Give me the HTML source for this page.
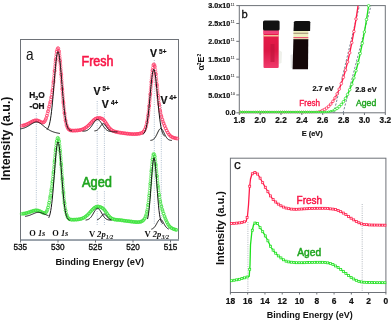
<!DOCTYPE html>
<html><head><meta charset="utf-8"><title>Figure</title>
<style>html,body{margin:0;padding:0;background:#fff;width:392px;height:322px;overflow:hidden}svg{display:block;filter:blur(0.3px)}</style>
</head><body>
<svg width="392" height="322" viewBox="0 0 392 322"><rect x="20.5" y="39.5" width="158" height="200.5" fill="none" stroke="#6e7278" stroke-width="1"/>
<line x1="20.9" y1="240.1" x2="179" y2="240.1" stroke="#9aa2ab" stroke-width="1.9"/>
<line x1="20.5" y1="240" x2="20.5" y2="242.5" stroke="#6e7278" stroke-width="1"/>
<line x1="58.0" y1="240" x2="58.0" y2="242.5" stroke="#6e7278" stroke-width="1"/>
<line x1="95.5" y1="240" x2="95.5" y2="242.5" stroke="#6e7278" stroke-width="1"/>
<line x1="133.0" y1="240" x2="133.0" y2="242.5" stroke="#6e7278" stroke-width="1"/>
<line x1="170.5" y1="240" x2="170.5" y2="242.5" stroke="#6e7278" stroke-width="1"/>
<line x1="36.30" y1="113.0" x2="36.30" y2="209.0" stroke="#a8b8ca" stroke-width="0.90" stroke-dasharray="1 1.2"/>
<line x1="97.20" y1="101.0" x2="97.20" y2="225.0" stroke="#a8b8ca" stroke-width="0.90" stroke-dasharray="1 1.2"/>
<line x1="104.40" y1="112.0" x2="104.40" y2="225.0" stroke="#a8b8ca" stroke-width="0.90" stroke-dasharray="1 1.2"/>
<line x1="154.30" y1="60.0" x2="154.30" y2="225.0" stroke="#a8b8ca" stroke-width="0.90" stroke-dasharray="1 1.2"/>
<line x1="161.30" y1="105.0" x2="161.30" y2="225.0" stroke="#a8b8ca" stroke-width="0.90" stroke-dasharray="1 1.2"/>
<g fill="none" stroke="#ff3765" stroke-width="0.60"><circle cx="21.60" cy="125.82" r="1.40"/><circle cx="22.70" cy="125.62" r="1.40"/><circle cx="23.80" cy="125.35" r="1.40"/><circle cx="23.94" cy="125.31" r="1.40"/><circle cx="24.90" cy="125.02" r="1.40"/><circle cx="26.00" cy="124.62" r="1.40"/><circle cx="26.21" cy="124.54" r="1.40"/><circle cx="27.10" cy="124.16" r="1.40"/><circle cx="28.20" cy="123.64" r="1.40"/><circle cx="28.40" cy="123.54" r="1.40"/><circle cx="29.30" cy="123.07" r="1.40"/><circle cx="30.40" cy="122.47" r="1.40"/><circle cx="30.51" cy="122.41" r="1.40"/><circle cx="31.50" cy="121.88" r="1.40"/><circle cx="32.60" cy="121.32" r="1.40"/><circle cx="32.64" cy="121.30" r="1.40"/><circle cx="33.70" cy="120.85" r="1.40"/><circle cx="34.80" cy="120.50" r="1.40"/><circle cx="34.89" cy="120.48" r="1.40"/><circle cx="35.90" cy="120.34" r="1.40"/><circle cx="37.00" cy="120.40" r="1.40"/><circle cx="37.27" cy="120.44" r="1.40"/><circle cx="38.10" cy="120.65" r="1.40"/><circle cx="39.20" cy="121.10" r="1.40"/><circle cx="39.52" cy="121.26" r="1.40"/><circle cx="40.30" cy="121.67" r="1.40"/><circle cx="41.40" cy="122.23" r="1.40"/><circle cx="41.66" cy="122.35" r="1.40"/><circle cx="42.50" cy="122.59" r="1.40"/><circle cx="43.60" cy="122.42" r="1.40"/><circle cx="43.93" cy="122.21" r="1.40"/><circle cx="44.70" cy="121.36" r="1.40"/><circle cx="45.31" cy="120.27" r="1.40"/><circle cx="45.80" cy="119.13" r="1.40"/><circle cx="46.19" cy="118.04" r="1.40"/><circle cx="46.89" cy="115.75" r="1.40"/><circle cx="46.90" cy="115.71" r="1.40"/><circle cx="47.51" cy="113.43" r="1.40"/><circle cx="48.00" cy="111.44" r="1.40"/><circle cx="48.08" cy="111.10" r="1.40"/><circle cx="48.65" cy="108.77" r="1.40"/><circle cx="49.10" cy="106.92" r="1.40"/><circle cx="49.22" cy="106.43" r="1.40"/><circle cx="49.79" cy="104.10" r="1.40"/><circle cx="50.20" cy="102.38" r="1.40"/><circle cx="50.34" cy="101.77" r="1.40"/><circle cx="50.87" cy="99.43" r="1.40"/><circle cx="51.30" cy="97.34" r="1.40"/><circle cx="51.35" cy="97.07" r="1.40"/><circle cx="51.78" cy="94.71" r="1.40"/><circle cx="52.17" cy="92.34" r="1.40"/><circle cx="52.40" cy="90.77" r="1.40"/><circle cx="52.51" cy="89.97" r="1.40"/><circle cx="52.83" cy="87.59" r="1.40"/><circle cx="53.12" cy="85.21" r="1.40"/><circle cx="53.39" cy="82.82" r="1.40"/><circle cx="53.50" cy="81.87" r="1.40"/><circle cx="53.65" cy="80.44" r="1.40"/><circle cx="53.90" cy="78.05" r="1.40"/><circle cx="54.14" cy="75.66" r="1.40"/><circle cx="54.37" cy="73.27" r="1.40"/><circle cx="54.60" cy="70.94" r="1.40"/><circle cx="54.60" cy="70.89" r="1.40"/><circle cx="54.83" cy="68.50" r="1.40"/><circle cx="55.06" cy="66.11" r="1.40"/><circle cx="55.30" cy="63.72" r="1.40"/><circle cx="55.54" cy="61.33" r="1.40"/><circle cx="55.70" cy="59.80" r="1.40"/><circle cx="55.79" cy="58.94" r="1.40"/><circle cx="56.06" cy="56.56" r="1.40"/><circle cx="56.36" cy="54.18" r="1.40"/><circle cx="56.71" cy="51.80" r="1.40"/><circle cx="56.80" cy="51.27" r="1.40"/><circle cx="57.18" cy="49.45" r="1.40"/><circle cx="57.90" cy="48.01" r="1.40"/><circle cx="58.34" cy="48.55" r="1.40"/><circle cx="58.92" cy="50.88" r="1.40"/><circle cx="59.00" cy="51.36" r="1.40"/><circle cx="59.28" cy="53.25" r="1.40"/><circle cx="59.57" cy="55.63" r="1.40"/><circle cx="59.83" cy="58.02" r="1.40"/><circle cx="60.06" cy="60.41" r="1.40"/><circle cx="60.10" cy="60.82" r="1.40"/><circle cx="60.28" cy="62.80" r="1.40"/><circle cx="60.48" cy="65.19" r="1.40"/><circle cx="60.68" cy="67.58" r="1.40"/><circle cx="60.87" cy="69.97" r="1.40"/><circle cx="61.05" cy="72.37" r="1.40"/><circle cx="61.20" cy="74.29" r="1.40"/><circle cx="61.23" cy="74.76" r="1.40"/><circle cx="61.41" cy="77.15" r="1.40"/><circle cx="61.59" cy="79.54" r="1.40"/><circle cx="61.77" cy="81.94" r="1.40"/><circle cx="61.95" cy="84.33" r="1.40"/><circle cx="62.13" cy="86.73" r="1.40"/><circle cx="62.30" cy="89.00" r="1.40"/><circle cx="62.31" cy="89.12" r="1.40"/><circle cx="62.49" cy="91.51" r="1.40"/><circle cx="62.68" cy="93.90" r="1.40"/><circle cx="62.87" cy="96.30" r="1.40"/><circle cx="63.07" cy="98.69" r="1.40"/><circle cx="63.28" cy="101.08" r="1.40"/><circle cx="63.40" cy="102.47" r="1.40"/><circle cx="63.49" cy="103.47" r="1.40"/><circle cx="63.71" cy="105.86" r="1.40"/><circle cx="63.95" cy="108.25" r="1.40"/><circle cx="64.20" cy="110.63" r="1.40"/><circle cx="64.48" cy="113.02" r="1.40"/><circle cx="64.50" cy="113.21" r="1.40"/><circle cx="64.78" cy="115.40" r="1.40"/><circle cx="65.11" cy="117.78" r="1.40"/><circle cx="65.49" cy="120.15" r="1.40"/><circle cx="65.60" cy="120.77" r="1.40"/><circle cx="65.94" cy="122.50" r="1.40"/><circle cx="66.50" cy="124.84" r="1.40"/><circle cx="66.70" cy="125.52" r="1.40"/><circle cx="67.26" cy="127.11" r="1.40"/><circle cx="67.80" cy="128.21" r="1.40"/><circle cx="68.47" cy="129.17" r="1.40"/><circle cx="68.90" cy="129.59" r="1.40"/><circle cx="70.00" cy="130.23" r="1.40"/><circle cx="70.50" cy="130.38" r="1.40"/><circle cx="71.10" cy="130.49" r="1.40"/><circle cx="72.20" cy="130.59" r="1.40"/><circle cx="72.88" cy="130.61" r="1.40"/><circle cx="73.30" cy="130.61" r="1.40"/><circle cx="74.40" cy="130.59" r="1.40"/><circle cx="75.28" cy="130.56" r="1.40"/><circle cx="75.50" cy="130.55" r="1.40"/><circle cx="76.60" cy="130.49" r="1.40"/><circle cx="77.68" cy="130.40" r="1.40"/><circle cx="77.70" cy="130.39" r="1.40"/><circle cx="78.80" cy="130.26" r="1.40"/><circle cx="79.90" cy="130.08" r="1.40"/><circle cx="80.05" cy="130.05" r="1.40"/><circle cx="81.00" cy="129.83" r="1.40"/><circle cx="82.10" cy="129.50" r="1.40"/><circle cx="82.36" cy="129.41" r="1.40"/><circle cx="83.20" cy="129.07" r="1.40"/><circle cx="84.30" cy="128.53" r="1.40"/><circle cx="84.54" cy="128.40" r="1.40"/><circle cx="85.40" cy="127.87" r="1.40"/><circle cx="86.50" cy="127.10" r="1.40"/><circle cx="86.53" cy="127.07" r="1.40"/><circle cx="87.60" cy="126.19" r="1.40"/><circle cx="88.35" cy="125.51" r="1.40"/><circle cx="88.70" cy="125.17" r="1.40"/><circle cx="89.80" cy="124.05" r="1.40"/><circle cx="90.04" cy="123.80" r="1.40"/><circle cx="90.90" cy="122.88" r="1.40"/><circle cx="91.68" cy="122.05" r="1.40"/><circle cx="92.00" cy="121.71" r="1.40"/><circle cx="93.10" cy="120.61" r="1.40"/><circle cx="93.38" cy="120.35" r="1.40"/><circle cx="94.20" cy="119.64" r="1.40"/><circle cx="95.27" cy="118.89" r="1.40"/><circle cx="95.30" cy="118.87" r="1.40"/><circle cx="96.40" cy="118.33" r="1.40"/><circle cx="97.50" cy="118.03" r="1.40"/><circle cx="97.50" cy="118.03" r="1.40"/><circle cx="98.60" cy="117.93" r="1.40"/><circle cx="99.70" cy="117.99" r="1.40"/><circle cx="99.89" cy="118.02" r="1.40"/><circle cx="100.80" cy="118.20" r="1.40"/><circle cx="101.90" cy="118.60" r="1.40"/><circle cx="102.16" cy="118.74" r="1.40"/><circle cx="103.00" cy="119.30" r="1.40"/><circle cx="104.01" cy="120.26" r="1.40"/><circle cx="104.10" cy="120.36" r="1.40"/><circle cx="105.20" cy="121.79" r="1.40"/><circle cx="105.46" cy="122.17" r="1.40"/><circle cx="106.30" cy="123.47" r="1.40"/><circle cx="106.75" cy="124.19" r="1.40"/><circle cx="107.40" cy="125.20" r="1.40"/><circle cx="108.06" cy="126.20" r="1.40"/><circle cx="108.50" cy="126.81" r="1.40"/><circle cx="109.53" cy="128.09" r="1.40"/><circle cx="109.60" cy="128.17" r="1.40"/><circle cx="110.70" cy="129.29" r="1.40"/><circle cx="111.26" cy="129.76" r="1.40"/><circle cx="111.80" cy="130.16" r="1.40"/><circle cx="112.90" cy="130.80" r="1.40"/><circle cx="113.31" cy="130.99" r="1.40"/><circle cx="114.00" cy="131.28" r="1.40"/><circle cx="115.10" cy="131.65" r="1.40"/><circle cx="115.57" cy="131.78" r="1.40"/><circle cx="116.20" cy="131.94" r="1.40"/><circle cx="117.30" cy="132.19" r="1.40"/><circle cx="117.91" cy="132.31" r="1.40"/><circle cx="118.40" cy="132.40" r="1.40"/><circle cx="119.50" cy="132.59" r="1.40"/><circle cx="120.28" cy="132.71" r="1.40"/><circle cx="120.60" cy="132.76" r="1.40"/><circle cx="121.70" cy="132.91" r="1.40"/><circle cx="122.65" cy="133.05" r="1.40"/><circle cx="122.80" cy="133.07" r="1.40"/><circle cx="123.90" cy="133.23" r="1.40"/><circle cx="125.00" cy="133.37" r="1.40"/><circle cx="125.03" cy="133.38" r="1.40"/><circle cx="126.10" cy="133.51" r="1.40"/><circle cx="127.20" cy="133.64" r="1.40"/><circle cx="127.41" cy="133.66" r="1.40"/><circle cx="128.30" cy="133.76" r="1.40"/><circle cx="129.40" cy="133.87" r="1.40"/><circle cx="129.80" cy="133.90" r="1.40"/><circle cx="130.50" cy="133.96" r="1.40"/><circle cx="131.60" cy="134.05" r="1.40"/><circle cx="132.20" cy="134.08" r="1.40"/><circle cx="132.70" cy="134.09" r="1.40"/><circle cx="133.80" cy="134.10" r="1.40"/><circle cx="134.60" cy="134.09" r="1.40"/><circle cx="134.90" cy="134.08" r="1.40"/><circle cx="136.00" cy="134.04" r="1.40"/><circle cx="136.99" cy="133.97" r="1.40"/><circle cx="137.10" cy="133.96" r="1.40"/><circle cx="138.20" cy="133.84" r="1.40"/><circle cx="139.30" cy="133.66" r="1.40"/><circle cx="139.37" cy="133.65" r="1.40"/><circle cx="140.40" cy="133.40" r="1.40"/><circle cx="141.50" cy="133.02" r="1.40"/><circle cx="141.66" cy="132.95" r="1.40"/><circle cx="142.60" cy="132.38" r="1.40"/><circle cx="143.55" cy="131.49" r="1.40"/><circle cx="143.70" cy="131.32" r="1.40"/><circle cx="144.80" cy="129.59" r="1.40"/><circle cx="144.85" cy="129.49" r="1.40"/><circle cx="145.74" cy="127.26" r="1.40"/><circle cx="145.90" cy="126.74" r="1.40"/><circle cx="146.39" cy="124.95" r="1.40"/><circle cx="146.92" cy="122.61" r="1.40"/><circle cx="147.00" cy="122.21" r="1.40"/><circle cx="147.36" cy="120.25" r="1.40"/><circle cx="147.74" cy="117.88" r="1.40"/><circle cx="148.09" cy="115.51" r="1.40"/><circle cx="148.10" cy="115.41" r="1.40"/><circle cx="148.40" cy="113.13" r="1.40"/><circle cx="148.68" cy="110.74" r="1.40"/><circle cx="148.95" cy="108.36" r="1.40"/><circle cx="149.20" cy="106.02" r="1.40"/><circle cx="149.21" cy="105.97" r="1.40"/><circle cx="149.45" cy="103.58" r="1.40"/><circle cx="149.68" cy="101.19" r="1.40"/><circle cx="149.90" cy="98.81" r="1.40"/><circle cx="150.12" cy="96.42" r="1.40"/><circle cx="150.30" cy="94.34" r="1.40"/><circle cx="150.33" cy="94.02" r="1.40"/><circle cx="150.54" cy="91.63" r="1.40"/><circle cx="150.74" cy="89.24" r="1.40"/><circle cx="150.95" cy="86.85" r="1.40"/><circle cx="151.15" cy="84.46" r="1.40"/><circle cx="151.36" cy="82.07" r="1.40"/><circle cx="151.40" cy="81.63" r="1.40"/><circle cx="151.57" cy="79.68" r="1.40"/><circle cx="151.79" cy="77.29" r="1.40"/><circle cx="152.02" cy="74.90" r="1.40"/><circle cx="152.26" cy="72.51" r="1.40"/><circle cx="152.50" cy="70.39" r="1.40"/><circle cx="152.53" cy="70.13" r="1.40"/><circle cx="152.85" cy="67.75" r="1.40"/><circle cx="153.28" cy="65.39" r="1.40"/><circle cx="153.60" cy="64.34" r="1.40"/><circle cx="154.36" cy="64.67" r="1.40"/><circle cx="154.70" cy="66.00" r="1.40"/><circle cx="154.89" cy="67.01" r="1.40"/><circle cx="155.24" cy="69.38" r="1.40"/><circle cx="155.54" cy="71.76" r="1.40"/><circle cx="155.80" cy="74.05" r="1.40"/><circle cx="155.81" cy="74.14" r="1.40"/><circle cx="156.06" cy="76.53" r="1.40"/><circle cx="156.31" cy="78.92" r="1.40"/><circle cx="156.55" cy="81.31" r="1.40"/><circle cx="156.78" cy="83.70" r="1.40"/><circle cx="156.90" cy="84.86" r="1.40"/><circle cx="157.02" cy="86.08" r="1.40"/><circle cx="157.26" cy="88.47" r="1.40"/><circle cx="157.51" cy="90.86" r="1.40"/><circle cx="157.76" cy="93.25" r="1.40"/><circle cx="158.00" cy="95.43" r="1.40"/><circle cx="158.02" cy="95.63" r="1.40"/><circle cx="158.30" cy="98.02" r="1.40"/><circle cx="158.59" cy="100.40" r="1.40"/><circle cx="158.90" cy="102.78" r="1.40"/><circle cx="159.10" cy="104.26" r="1.40"/><circle cx="159.23" cy="105.15" r="1.40"/><circle cx="159.59" cy="107.53" r="1.40"/><circle cx="159.99" cy="109.89" r="1.40"/><circle cx="160.20" cy="111.00" r="1.40"/><circle cx="160.45" cy="112.25" r="1.40"/><circle cx="160.96" cy="114.59" r="1.40"/><circle cx="161.30" cy="115.97" r="1.40"/><circle cx="161.55" cy="116.92" r="1.40"/><circle cx="162.23" cy="119.22" r="1.40"/><circle cx="162.40" cy="119.77" r="1.40"/><circle cx="162.98" cy="121.50" r="1.40"/><circle cx="163.50" cy="122.94" r="1.40"/><circle cx="163.81" cy="123.76" r="1.40"/><circle cx="164.60" cy="125.80" r="1.40"/><circle cx="164.68" cy="125.99" r="1.40"/><circle cx="165.60" cy="128.21" r="1.40"/><circle cx="165.70" cy="128.43" r="1.40"/><circle cx="166.61" cy="130.39" r="1.40"/><circle cx="166.80" cy="130.78" r="1.40"/><circle cx="167.73" cy="132.51" r="1.40"/><circle cx="167.90" cy="132.80" r="1.40"/><circle cx="169.00" cy="134.43" r="1.40"/><circle cx="169.06" cy="134.50" r="1.40"/><circle cx="170.10" cy="135.67" r="1.40"/><circle cx="170.73" cy="136.22" r="1.40"/><circle cx="171.20" cy="136.57" r="1.40"/><circle cx="172.30" cy="137.21" r="1.40"/><circle cx="172.79" cy="137.43" r="1.40"/><circle cx="173.40" cy="137.66" r="1.40"/><circle cx="174.50" cy="137.99" r="1.40"/><circle cx="175.08" cy="138.13" r="1.40"/><circle cx="175.60" cy="138.24" r="1.40"/><circle cx="176.70" cy="138.44" r="1.40"/><circle cx="177.44" cy="138.56" r="1.40"/></g>
<g fill="none" stroke="#3be23b" stroke-width="0.60"><circle cx="21.60" cy="213.91" r="1.40"/><circle cx="22.70" cy="213.79" r="1.40"/><circle cx="23.80" cy="213.63" r="1.40"/><circle cx="23.98" cy="213.60" r="1.40"/><circle cx="24.90" cy="213.42" r="1.40"/><circle cx="26.00" cy="213.18" r="1.40"/><circle cx="26.33" cy="213.09" r="1.40"/><circle cx="27.10" cy="212.88" r="1.40"/><circle cx="28.20" cy="212.55" r="1.40"/><circle cx="28.63" cy="212.42" r="1.40"/><circle cx="29.30" cy="212.19" r="1.40"/><circle cx="30.40" cy="211.81" r="1.40"/><circle cx="30.89" cy="211.63" r="1.40"/><circle cx="31.50" cy="211.42" r="1.40"/><circle cx="32.60" cy="211.05" r="1.40"/><circle cx="33.17" cy="210.87" r="1.40"/><circle cx="33.70" cy="210.73" r="1.40"/><circle cx="34.80" cy="210.49" r="1.40"/><circle cx="35.52" cy="210.40" r="1.40"/><circle cx="35.90" cy="210.37" r="1.40"/><circle cx="37.00" cy="210.39" r="1.40"/><circle cx="37.90" cy="210.55" r="1.40"/><circle cx="38.10" cy="210.60" r="1.40"/><circle cx="39.20" cy="210.96" r="1.40"/><circle cx="40.16" cy="211.36" r="1.40"/><circle cx="40.30" cy="211.43" r="1.40"/><circle cx="41.40" cy="211.97" r="1.40"/><circle cx="42.31" cy="212.43" r="1.40"/><circle cx="42.50" cy="212.53" r="1.40"/><circle cx="43.60" cy="212.99" r="1.40"/><circle cx="44.57" cy="213.16" r="1.40"/><circle cx="44.70" cy="213.15" r="1.40"/><circle cx="45.80" cy="212.62" r="1.40"/><circle cx="46.43" cy="211.81" r="1.40"/><circle cx="46.90" cy="210.90" r="1.40"/><circle cx="47.40" cy="209.62" r="1.40"/><circle cx="48.00" cy="207.62" r="1.40"/><circle cx="48.08" cy="207.32" r="1.40"/><circle cx="48.64" cy="204.99" r="1.40"/><circle cx="49.10" cy="202.78" r="1.40"/><circle cx="49.13" cy="202.64" r="1.40"/><circle cx="49.58" cy="200.28" r="1.40"/><circle cx="50.00" cy="197.92" r="1.40"/><circle cx="50.20" cy="196.79" r="1.40"/><circle cx="50.41" cy="195.55" r="1.40"/><circle cx="50.80" cy="193.19" r="1.40"/><circle cx="51.17" cy="190.81" r="1.40"/><circle cx="51.30" cy="189.95" r="1.40"/><circle cx="51.52" cy="188.44" r="1.40"/><circle cx="51.86" cy="186.07" r="1.40"/><circle cx="52.18" cy="183.69" r="1.40"/><circle cx="52.40" cy="182.02" r="1.40"/><circle cx="52.49" cy="181.31" r="1.40"/><circle cx="52.78" cy="178.92" r="1.40"/><circle cx="53.05" cy="176.54" r="1.40"/><circle cx="53.31" cy="174.15" r="1.40"/><circle cx="53.50" cy="172.39" r="1.40"/><circle cx="53.56" cy="171.77" r="1.40"/><circle cx="53.81" cy="169.38" r="1.40"/><circle cx="54.04" cy="166.99" r="1.40"/><circle cx="54.27" cy="164.60" r="1.40"/><circle cx="54.50" cy="162.21" r="1.40"/><circle cx="54.60" cy="161.15" r="1.40"/><circle cx="54.72" cy="159.82" r="1.40"/><circle cx="54.95" cy="157.43" r="1.40"/><circle cx="55.18" cy="155.04" r="1.40"/><circle cx="55.41" cy="152.66" r="1.40"/><circle cx="55.65" cy="150.27" r="1.40"/><circle cx="55.70" cy="149.80" r="1.40"/><circle cx="55.90" cy="147.88" r="1.40"/><circle cx="56.18" cy="145.50" r="1.40"/><circle cx="56.49" cy="143.12" r="1.40"/><circle cx="56.80" cy="141.06" r="1.40"/><circle cx="56.86" cy="140.75" r="1.40"/><circle cx="57.40" cy="138.41" r="1.40"/><circle cx="57.90" cy="137.67" r="1.40"/><circle cx="58.57" cy="138.91" r="1.40"/><circle cx="59.00" cy="141.03" r="1.40"/><circle cx="59.04" cy="141.27" r="1.40"/><circle cx="59.37" cy="143.64" r="1.40"/><circle cx="59.65" cy="146.03" r="1.40"/><circle cx="59.89" cy="148.42" r="1.40"/><circle cx="60.10" cy="150.61" r="1.40"/><circle cx="60.12" cy="150.80" r="1.40"/><circle cx="60.33" cy="153.20" r="1.40"/><circle cx="60.53" cy="155.59" r="1.40"/><circle cx="60.72" cy="157.98" r="1.40"/><circle cx="60.91" cy="160.37" r="1.40"/><circle cx="61.09" cy="162.76" r="1.40"/><circle cx="61.20" cy="164.22" r="1.40"/><circle cx="61.27" cy="165.16" r="1.40"/><circle cx="61.45" cy="167.55" r="1.40"/><circle cx="61.63" cy="169.95" r="1.40"/><circle cx="61.80" cy="172.34" r="1.40"/><circle cx="61.98" cy="174.73" r="1.40"/><circle cx="62.16" cy="177.13" r="1.40"/><circle cx="62.30" cy="179.00" r="1.40"/><circle cx="62.34" cy="179.52" r="1.40"/><circle cx="62.52" cy="181.91" r="1.40"/><circle cx="62.71" cy="184.30" r="1.40"/><circle cx="62.91" cy="186.70" r="1.40"/><circle cx="63.11" cy="189.09" r="1.40"/><circle cx="63.31" cy="191.48" r="1.40"/><circle cx="63.40" cy="192.45" r="1.40"/><circle cx="63.53" cy="193.87" r="1.40"/><circle cx="63.76" cy="196.26" r="1.40"/><circle cx="64.00" cy="198.65" r="1.40"/><circle cx="64.26" cy="201.03" r="1.40"/><circle cx="64.50" cy="203.09" r="1.40"/><circle cx="64.54" cy="203.42" r="1.40"/><circle cx="64.85" cy="205.80" r="1.40"/><circle cx="65.20" cy="208.17" r="1.40"/><circle cx="65.60" cy="210.47" r="1.40"/><circle cx="65.61" cy="210.53" r="1.40"/><circle cx="66.11" cy="212.88" r="1.40"/><circle cx="66.70" cy="215.01" r="1.40"/><circle cx="66.76" cy="215.19" r="1.40"/><circle cx="67.71" cy="217.39" r="1.40"/><circle cx="67.80" cy="217.54" r="1.40"/><circle cx="68.90" cy="218.81" r="1.40"/><circle cx="69.35" cy="219.10" r="1.40"/><circle cx="70.00" cy="219.39" r="1.40"/><circle cx="71.10" cy="219.62" r="1.40"/><circle cx="71.66" cy="219.67" r="1.40"/><circle cx="72.20" cy="219.70" r="1.40"/><circle cx="73.30" cy="219.71" r="1.40"/><circle cx="74.06" cy="219.69" r="1.40"/><circle cx="74.40" cy="219.68" r="1.40"/><circle cx="75.50" cy="219.64" r="1.40"/><circle cx="76.46" cy="219.58" r="1.40"/><circle cx="76.60" cy="219.57" r="1.40"/><circle cx="77.70" cy="219.47" r="1.40"/><circle cx="78.80" cy="219.32" r="1.40"/><circle cx="78.84" cy="219.32" r="1.40"/><circle cx="79.90" cy="219.12" r="1.40"/><circle cx="81.00" cy="218.85" r="1.40"/><circle cx="81.18" cy="218.80" r="1.40"/><circle cx="82.10" cy="218.50" r="1.40"/><circle cx="83.20" cy="218.03" r="1.40"/><circle cx="83.42" cy="217.93" r="1.40"/><circle cx="84.30" cy="217.45" r="1.40"/><circle cx="85.40" cy="216.73" r="1.40"/><circle cx="85.47" cy="216.69" r="1.40"/><circle cx="86.50" cy="215.88" r="1.40"/><circle cx="87.31" cy="215.16" r="1.40"/><circle cx="87.60" cy="214.89" r="1.40"/><circle cx="88.70" cy="213.78" r="1.40"/><circle cx="89.00" cy="213.45" r="1.40"/><circle cx="89.80" cy="212.58" r="1.40"/><circle cx="90.61" cy="211.67" r="1.40"/><circle cx="90.90" cy="211.34" r="1.40"/><circle cx="92.00" cy="210.11" r="1.40"/><circle cx="92.21" cy="209.88" r="1.40"/><circle cx="93.10" cy="208.96" r="1.40"/><circle cx="93.93" cy="208.21" r="1.40"/><circle cx="94.20" cy="207.98" r="1.40"/><circle cx="95.30" cy="207.24" r="1.40"/><circle cx="95.94" cy="206.93" r="1.40"/><circle cx="96.40" cy="206.77" r="1.40"/><circle cx="97.50" cy="206.58" r="1.40"/><circle cx="98.30" cy="206.60" r="1.40"/><circle cx="98.60" cy="206.63" r="1.40"/><circle cx="99.70" cy="206.85" r="1.40"/><circle cx="100.63" cy="207.15" r="1.40"/><circle cx="100.80" cy="207.21" r="1.40"/><circle cx="101.90" cy="207.73" r="1.40"/><circle cx="102.73" cy="208.28" r="1.40"/><circle cx="103.00" cy="208.48" r="1.40"/><circle cx="104.10" cy="209.52" r="1.40"/><circle cx="104.46" cy="209.93" r="1.40"/><circle cx="105.20" cy="210.86" r="1.40"/><circle cx="105.91" cy="211.85" r="1.40"/><circle cx="106.30" cy="212.42" r="1.40"/><circle cx="107.26" cy="213.83" r="1.40"/><circle cx="107.40" cy="214.03" r="1.40"/><circle cx="108.50" cy="215.54" r="1.40"/><circle cx="108.68" cy="215.77" r="1.40"/><circle cx="109.60" cy="216.82" r="1.40"/><circle cx="110.33" cy="217.51" r="1.40"/><circle cx="110.70" cy="217.81" r="1.40"/><circle cx="111.80" cy="218.54" r="1.40"/><circle cx="112.34" cy="218.80" r="1.40"/><circle cx="112.90" cy="219.04" r="1.40"/><circle cx="114.00" cy="219.38" r="1.40"/><circle cx="114.62" cy="219.52" r="1.40"/><circle cx="115.10" cy="219.61" r="1.40"/><circle cx="116.20" cy="219.77" r="1.40"/><circle cx="117.00" cy="219.85" r="1.40"/><circle cx="117.30" cy="219.87" r="1.40"/><circle cx="118.40" cy="219.95" r="1.40"/><circle cx="119.39" cy="220.00" r="1.40"/><circle cx="119.50" cy="220.00" r="1.40"/><circle cx="120.60" cy="220.12" r="1.40"/><circle cx="121.70" cy="220.31" r="1.40"/><circle cx="121.77" cy="220.32" r="1.40"/><circle cx="122.80" cy="220.48" r="1.40"/><circle cx="123.90" cy="220.64" r="1.40"/><circle cx="124.14" cy="220.67" r="1.40"/><circle cx="125.00" cy="220.79" r="1.40"/><circle cx="126.10" cy="220.94" r="1.40"/><circle cx="126.52" cy="220.99" r="1.40"/><circle cx="127.20" cy="221.07" r="1.40"/><circle cx="128.30" cy="221.20" r="1.40"/><circle cx="128.90" cy="221.27" r="1.40"/><circle cx="129.40" cy="221.32" r="1.40"/><circle cx="130.50" cy="221.45" r="1.40"/><circle cx="131.28" cy="221.57" r="1.40"/><circle cx="131.60" cy="221.62" r="1.40"/><circle cx="132.70" cy="221.77" r="1.40"/><circle cx="133.66" cy="221.88" r="1.40"/><circle cx="133.80" cy="221.90" r="1.40"/><circle cx="134.90" cy="222.00" r="1.40"/><circle cx="136.00" cy="222.08" r="1.40"/><circle cx="136.05" cy="222.08" r="1.40"/><circle cx="137.10" cy="222.12" r="1.40"/><circle cx="138.20" cy="222.11" r="1.40"/><circle cx="138.45" cy="222.11" r="1.40"/><circle cx="139.30" cy="222.05" r="1.40"/><circle cx="140.40" cy="221.86" r="1.40"/><circle cx="140.81" cy="221.73" r="1.40"/><circle cx="141.50" cy="221.47" r="1.40"/><circle cx="142.60" cy="220.87" r="1.40"/><circle cx="142.93" cy="220.63" r="1.40"/><circle cx="143.70" cy="219.92" r="1.40"/><circle cx="144.50" cy="218.83" r="1.40"/><circle cx="144.80" cy="218.32" r="1.40"/><circle cx="145.54" cy="216.67" r="1.40"/><circle cx="145.90" cy="215.65" r="1.40"/><circle cx="146.28" cy="214.39" r="1.40"/><circle cx="146.85" cy="212.06" r="1.40"/><circle cx="147.00" cy="211.33" r="1.40"/><circle cx="147.31" cy="209.71" r="1.40"/><circle cx="147.72" cy="207.34" r="1.40"/><circle cx="148.07" cy="204.97" r="1.40"/><circle cx="148.10" cy="204.75" r="1.40"/><circle cx="148.39" cy="202.59" r="1.40"/><circle cx="148.68" cy="200.20" r="1.40"/><circle cx="148.95" cy="197.82" r="1.40"/><circle cx="149.20" cy="195.51" r="1.40"/><circle cx="149.21" cy="195.43" r="1.40"/><circle cx="149.45" cy="193.05" r="1.40"/><circle cx="149.68" cy="190.66" r="1.40"/><circle cx="149.90" cy="188.27" r="1.40"/><circle cx="150.12" cy="185.88" r="1.40"/><circle cx="150.30" cy="183.83" r="1.40"/><circle cx="150.33" cy="183.49" r="1.40"/><circle cx="150.54" cy="181.10" r="1.40"/><circle cx="150.74" cy="178.70" r="1.40"/><circle cx="150.94" cy="176.31" r="1.40"/><circle cx="151.15" cy="173.92" r="1.40"/><circle cx="151.35" cy="171.53" r="1.40"/><circle cx="151.40" cy="170.95" r="1.40"/><circle cx="151.56" cy="169.14" r="1.40"/><circle cx="151.77" cy="166.75" r="1.40"/><circle cx="152.00" cy="164.36" r="1.40"/><circle cx="152.23" cy="161.97" r="1.40"/><circle cx="152.50" cy="159.59" r="1.40"/><circle cx="152.50" cy="159.57" r="1.40"/><circle cx="152.81" cy="157.21" r="1.40"/><circle cx="153.24" cy="154.85" r="1.40"/><circle cx="153.60" cy="153.80" r="1.40"/><circle cx="154.31" cy="154.45" r="1.40"/><circle cx="154.70" cy="156.22" r="1.40"/><circle cx="154.80" cy="156.80" r="1.40"/><circle cx="155.14" cy="159.18" r="1.40"/><circle cx="155.43" cy="161.56" r="1.40"/><circle cx="155.69" cy="163.94" r="1.40"/><circle cx="155.80" cy="164.96" r="1.40"/><circle cx="155.94" cy="166.33" r="1.40"/><circle cx="156.18" cy="168.72" r="1.40"/><circle cx="156.42" cy="171.11" r="1.40"/><circle cx="156.65" cy="173.50" r="1.40"/><circle cx="156.89" cy="175.88" r="1.40"/><circle cx="156.90" cy="175.99" r="1.40"/><circle cx="157.13" cy="178.27" r="1.40"/><circle cx="157.38" cy="180.66" r="1.40"/><circle cx="157.63" cy="183.05" r="1.40"/><circle cx="157.89" cy="185.43" r="1.40"/><circle cx="158.00" cy="186.35" r="1.40"/><circle cx="158.17" cy="187.82" r="1.40"/><circle cx="158.47" cy="190.20" r="1.40"/><circle cx="158.78" cy="192.58" r="1.40"/><circle cx="159.10" cy="194.81" r="1.40"/><circle cx="159.12" cy="194.95" r="1.40"/><circle cx="159.49" cy="197.32" r="1.40"/><circle cx="159.90" cy="199.69" r="1.40"/><circle cx="160.20" cy="201.24" r="1.40"/><circle cx="160.36" cy="202.04" r="1.40"/><circle cx="160.88" cy="204.39" r="1.40"/><circle cx="161.30" cy="206.11" r="1.40"/><circle cx="161.46" cy="206.72" r="1.40"/><circle cx="162.11" cy="209.03" r="1.40"/><circle cx="162.40" cy="210.01" r="1.40"/><circle cx="162.81" cy="211.32" r="1.40"/><circle cx="163.50" cy="213.42" r="1.40"/><circle cx="163.56" cy="213.60" r="1.40"/><circle cx="164.35" cy="215.87" r="1.40"/><circle cx="164.60" cy="216.58" r="1.40"/><circle cx="165.18" cy="218.12" r="1.40"/><circle cx="165.70" cy="219.43" r="1.40"/><circle cx="166.09" cy="220.34" r="1.40"/><circle cx="166.80" cy="221.92" r="1.40"/><circle cx="167.09" cy="222.52" r="1.40"/><circle cx="167.90" cy="224.01" r="1.40"/><circle cx="168.27" cy="224.61" r="1.40"/><circle cx="169.00" cy="225.67" r="1.40"/><circle cx="169.71" cy="226.52" r="1.40"/><circle cx="170.10" cy="226.92" r="1.40"/><circle cx="171.20" cy="227.83" r="1.40"/><circle cx="171.55" cy="228.06" r="1.40"/><circle cx="172.30" cy="228.49" r="1.40"/><circle cx="173.40" cy="228.98" r="1.40"/><circle cx="173.71" cy="229.09" r="1.40"/><circle cx="174.50" cy="229.35" r="1.40"/><circle cx="175.60" cy="229.66" r="1.40"/><circle cx="176.01" cy="229.77" r="1.40"/><circle cx="176.70" cy="229.93" r="1.40"/></g>
<path d="M20.50 128.87L21.00 128.79L21.50 128.69L22.00 128.59L22.50 128.47L23.00 128.34L23.50 128.19L24.00 128.03L24.50 127.85L25.00 127.66L25.50 127.46L26.00 127.23L26.50 127.00L27.00 126.75L27.50 126.48L28.00 126.20L28.50 125.91L29.00 125.61L29.50 125.30L30.00 124.99L30.50 124.67L31.00 124.35L31.50 124.03L32.00 123.72L32.50 123.42L33.00 123.14L33.50 122.87L34.00 122.64L34.50 122.43L35.00 122.26L35.50 122.14L36.00 122.06L36.50 122.02L37.00 122.05L37.50 122.12L38.00 122.24L38.50 122.42L39.00 122.64L39.50 122.90L40.00 123.20L40.50 123.53L41.00 123.88L41.50 124.26L42.00 124.66L42.50 125.06L43.00 125.47L43.50 125.89L44.00 126.30L44.50 126.71L45.00 127.11L45.50 127.50L46.00 127.89L46.50 128.26L47.00 128.62L47.50 128.97L48.00 129.30L48.50 129.61L49.00 129.91L49.50 130.20L50.00 130.47L50.50 130.72L51.00 130.96L51.50 131.19L52.00 131.40L52.50 131.60L53.00 131.78L53.50 131.96L54.00 132.12L54.50 132.28L55.00 132.42L55.50 132.55L56.00 132.68L56.50 132.80L57.00 132.91L57.50 133.02L58.00 133.12L58.50 133.22L59.00 133.31L59.50 133.40L60.00 133.48" fill="none" stroke="#141414" stroke-width="1.0"/>
<path d="M47.00 129.62L47.50 129.02L48.00 128.21L48.50 127.13L49.00 125.73L49.50 123.93L50.00 121.68L50.50 118.92L51.00 115.61L51.50 111.70L52.00 107.21L52.50 102.16L53.00 96.62L53.50 90.69L54.00 84.53L54.50 78.31L55.00 72.26L55.50 66.59L56.00 61.55L56.50 57.36L57.00 54.21L57.50 52.26L58.00 51.60L58.50 52.26L59.00 54.21L59.50 57.36L60.00 61.55L60.50 66.59L61.00 72.26L61.50 78.31L62.00 84.53L62.50 90.69L63.00 96.62L63.50 102.16L64.00 107.21L64.50 111.70L65.00 115.61L65.50 118.92L66.00 121.68L66.50 123.93L67.00 125.73L67.50 127.13L68.00 128.21L68.50 129.02L69.00 129.62L69.50 130.05L70.00 130.36L70.50 130.58L71.00 130.72L71.50 130.82L72.00 130.89" fill="none" stroke="#141414" stroke-width="1.0"/>
<path d="M82.50 131.23L83.00 131.21L83.50 131.18L84.00 131.14L84.50 131.08L85.00 131.01L85.50 130.91L86.00 130.78L86.50 130.62L87.00 130.42L87.50 130.17L88.00 129.88L88.50 129.53L89.00 129.12L89.50 128.65L90.00 128.12L90.50 127.53L91.00 126.89L91.50 126.19L92.00 125.46L92.50 124.70L93.00 123.93L93.50 123.17L94.00 122.43L94.50 121.74L95.00 121.12L95.50 120.57L96.00 120.13L96.50 119.81L97.00 119.62L97.50 119.56L98.00 119.63L98.50 119.85L99.00 120.19L99.50 120.64L100.00 121.20L100.50 121.84L101.00 122.55L101.50 123.31L102.00 124.09L102.50 124.88L103.00 125.65L103.50 126.40L104.00 127.11L104.50 127.77L105.00 128.38L105.50 128.93L106.00 129.41L106.50 129.84L107.00 130.20L107.50 130.52L108.00 130.78L108.50 131.00L109.00 131.17L109.50 131.32L110.00 131.44L110.50 131.53L111.00 131.60L111.50 131.66L112.00 131.71L112.50 131.75L113.00 131.77L113.50 131.80L114.00 131.82L114.50 131.83L115.00 131.85L115.50 131.86L116.00 131.87L116.50 131.88L117.00 131.89L117.50 131.90" fill="none" stroke="#141414" stroke-width="1.0"/>
<path d="M94.40 130.92L94.90 130.87L95.40 130.79L95.90 130.67L96.40 130.51L96.90 130.28L97.40 129.98L97.90 129.60L98.40 129.12L98.90 128.56L99.40 127.91L99.90 127.20L100.40 126.46L100.90 125.73L101.40 125.05L101.90 124.47L102.40 124.03L102.90 123.77L103.40 123.70L103.90 123.85L104.40 124.18L104.90 124.68L105.40 125.31L105.90 126.02L106.40 126.76L106.90 127.49L107.40 128.18L107.90 128.80L108.40 129.32L108.90 129.76L109.40 130.11L109.90 130.38L110.40 130.58" fill="none" stroke="#141414" stroke-width="1.0"/>
<path d="M142.80 134.29L143.30 133.98L143.80 133.52L144.30 132.87L144.80 131.98L145.30 130.78L145.80 129.21L146.30 127.22L146.80 124.73L147.30 121.72L147.80 118.15L148.30 114.04L148.80 109.41L149.30 104.36L149.80 99.02L150.30 93.54L150.80 88.12L151.30 83.00L151.80 78.40L152.30 74.55L152.80 71.66L153.30 69.87L153.80 69.29L154.30 69.96L154.80 71.84L155.30 74.82L155.80 78.76L156.30 83.45L156.80 88.66L157.30 94.17L157.80 99.74L158.30 105.18L158.80 110.31L159.30 115.03L159.80 119.23L160.30 122.89L160.80 126.00L161.30 128.57L161.80 130.66L162.30 132.31L162.80 133.60L163.30 134.58L163.80 135.32L164.30 135.87L164.80 136.27" fill="none" stroke="#141414" stroke-width="1.0"/>
<path d="M150.40 140.39L150.90 140.33L151.40 140.24L151.90 140.11L152.40 139.94L152.90 139.70L153.40 139.38L153.90 138.97L154.40 138.47L154.90 137.84L155.40 137.11L155.90 136.26L156.40 135.31L156.90 134.29L157.40 133.23L157.90 132.16L158.40 131.15L158.90 130.24L159.40 129.48L159.90 128.91L160.40 128.58L160.90 128.51L161.40 128.69L161.90 129.11L162.40 129.76L162.90 130.59L163.40 131.55L163.90 132.59L164.40 133.66L164.90 134.71L165.40 135.70L165.90 136.61L166.40 137.42L166.90 138.11L167.40 138.68L167.90 139.15L168.40 139.52L168.90 139.80L169.40 140.01L169.90 140.17L170.40 140.28L170.90 140.36L171.40 140.41L171.90 140.44" fill="none" stroke="#141414" stroke-width="1.0"/>
<path d="M25.00 216.34L25.50 216.27L26.00 216.19L26.50 216.10L27.00 216.00L27.50 215.89L28.00 215.77L28.50 215.63L29.00 215.48L29.50 215.32L30.00 215.14L30.50 214.95L31.00 214.76L31.50 214.55L32.00 214.34L32.50 214.12L33.00 213.90L33.50 213.68L34.00 213.46L34.50 213.25L35.00 213.05L35.50 212.87L36.00 212.71L36.50 212.57L37.00 212.45L37.50 212.37L38.00 212.32L38.50 212.30L39.00 212.32L39.50 212.37L40.00 212.45L40.50 212.57L41.00 212.71L41.50 212.87L42.00 213.05L42.50 213.25L43.00 213.46L43.50 213.68L44.00 213.90L44.50 214.12L45.00 214.34L45.50 214.55L46.00 214.76L46.50 214.95L47.00 215.14L47.50 215.32L48.00 215.48L48.50 215.63" fill="none" stroke="#141414" stroke-width="1.0"/>
<path d="M48.75 217.78L49.25 216.62L49.75 215.09L50.25 213.09L50.75 210.55L51.25 207.39L51.75 203.58L52.25 199.08L52.75 193.91L53.25 188.13L53.75 181.87L54.25 175.29L54.75 168.63L55.25 162.14L55.75 156.11L56.25 150.85L56.75 146.62L57.25 143.66L57.75 142.14L58.25 142.14L58.75 143.67L59.25 146.63L59.75 150.86L60.25 156.13L60.75 162.16L61.25 168.66L61.75 175.33L62.25 181.91L62.75 188.18L63.25 193.96L63.75 199.13L64.25 203.64L64.75 207.46L65.25 210.61L65.75 213.16L66.25 215.16L66.75 216.70L67.25 217.86L67.75 218.71L68.25 219.33L68.75 219.76L69.25 220.05L69.75 220.25" fill="none" stroke="#141414" stroke-width="1.0"/>
<path d="M85.60 220.06L86.10 220.00L86.60 219.91L87.10 219.80L87.60 219.65L88.10 219.46L88.60 219.22L89.10 218.92L89.60 218.55L90.10 218.10L90.60 217.58L91.10 216.98L91.60 216.30L92.10 215.54L92.60 214.73L93.10 213.87L93.60 212.98L94.10 212.10L94.60 211.25L95.10 210.46L95.60 209.76L96.10 209.19L96.60 208.76L97.10 208.49L97.60 208.40L98.10 208.49L98.60 208.76L99.10 209.19L99.60 209.76L100.10 210.46L100.60 211.25L101.10 212.10L101.60 212.98L102.10 213.87L102.60 214.73L103.10 215.54L103.60 216.30L104.10 216.98L104.60 217.58L105.10 218.10L105.60 218.55L106.10 218.92L106.60 219.22L107.10 219.46L107.60 219.65L108.10 219.80L108.60 219.91L109.10 220.00L109.60 220.06L110.10 220.10L110.60 220.13L111.10 220.16L111.60 220.17" fill="none" stroke="#141414" stroke-width="1.0"/>
<path d="M97.10 219.67L97.60 219.54L98.10 219.35L98.60 219.10L99.10 218.78L99.60 218.36L100.10 217.87L100.60 217.30L101.10 216.69L101.60 216.05L102.10 215.44L102.60 214.90L103.10 214.47L103.60 214.19L104.10 214.10L104.60 214.19L105.10 214.47L105.60 214.90L106.10 215.44L106.60 216.05L107.10 216.69L107.60 217.30L108.10 217.87L108.60 218.36L109.10 218.78L109.60 219.10L110.10 219.35L110.60 219.54L111.10 219.67" fill="none" stroke="#141414" stroke-width="1.0"/>
<path d="M147.50 219.02L148.00 216.84L148.50 213.91L149.00 210.11L149.50 205.38L150.00 199.74L150.50 193.33L151.00 186.39L151.50 179.29L152.00 172.48L152.50 166.47L153.00 161.75L153.50 158.74L154.00 157.71L154.50 158.77L155.00 161.81L155.50 166.56L156.00 172.61L156.50 179.45L157.00 186.59L157.50 193.56L158.00 200.00L158.50 205.67L159.00 210.43L159.50 214.26L160.00 217.23L160.50 219.44L161.00 221.02L161.50 222.11L162.00 222.84L162.50 223.32L163.00 223.62" fill="none" stroke="#141414" stroke-width="1.0"/>
<path d="M151.30 229.19L151.80 229.05L152.30 228.86L152.80 228.60L153.30 228.27L153.80 227.85L154.30 227.33L154.80 226.72L155.30 226.01L155.80 225.22L156.30 224.35L156.80 223.44L157.30 222.53L157.80 221.64L158.30 220.84L158.80 220.16L159.30 219.64L159.80 219.31L160.30 219.20L160.80 219.31L161.30 219.64L161.80 220.16L162.30 220.84L162.80 221.64L163.30 222.53L163.80 223.44L164.30 224.35L164.80 225.22L165.30 226.01L165.80 226.72L166.30 227.33L166.80 227.85L167.30 228.27L167.80 228.60L168.30 228.86L168.80 229.05" fill="none" stroke="#141414" stroke-width="1.0"/>
<text x="25.9" y="59.8" font-family="Liberation Sans, Arial, sans-serif" font-size="16.5" fill="#111" textLength="7.6" lengthAdjust="spacingAndGlyphs">a</text>
<text x="81.60" y="66.30" font-family="Liberation Sans, Arial, sans-serif" font-size="14.24" fill="#f81848" stroke="#f81848" stroke-width="0.64" textLength="31.90" lengthAdjust="spacingAndGlyphs">Fresh</text>
<rect x="80.5" y="175" width="34" height="15.5" fill="#fff"/>
<text x="81.95" y="186.80" font-family="Liberation Sans, Arial, sans-serif" font-size="13.95" fill="#1fa51f" stroke="#1fa51f" stroke-width="0.63" textLength="30.05" lengthAdjust="spacingAndGlyphs">Aged</text>
<text x="29.3" y="97.7" font-family="Liberation Sans, Arial, sans-serif" font-size="8.3" font-weight="bold" fill="#111" stroke="#111" stroke-width="0.22">H<tspan font-size="5.2" dy="2.0">2</tspan><tspan dy="-2.0">O</tspan></text>
<text x="29.4" y="108.6" font-family="Liberation Sans, Arial, sans-serif" font-size="8.3" font-weight="bold" fill="#111" stroke="#111" stroke-width="0.22">-OH</text>
<text x="93.4" y="94.6" font-family="Liberation Sans, Arial, sans-serif" font-size="10.5" font-weight="bold" fill="#111" stroke="#111" stroke-width="0.22">V</text>
<text x="102.5" y="91.3" font-family="Liberation Sans, Arial, sans-serif" font-size="6.4" font-weight="bold" fill="#111" stroke="#111" stroke-width="0.2">5+</text>
<text x="101.8" y="107.8" font-family="Liberation Sans, Arial, sans-serif" font-size="10.5" font-weight="bold" fill="#111" stroke="#111" stroke-width="0.22">V</text>
<text x="110.9" y="104.5" font-family="Liberation Sans, Arial, sans-serif" font-size="6.4" font-weight="bold" fill="#111" stroke="#111" stroke-width="0.2">4+</text>
<text x="150.0" y="57.0" font-family="Liberation Sans, Arial, sans-serif" font-size="10.5" font-weight="bold" fill="#111" stroke="#111" stroke-width="0.22">V</text>
<text x="159.1" y="53.7" font-family="Liberation Sans, Arial, sans-serif" font-size="6.4" font-weight="bold" fill="#111" stroke="#111" stroke-width="0.2">5+</text>
<text x="160.4" y="103.5" font-family="Liberation Sans, Arial, sans-serif" font-size="10.5" font-weight="bold" fill="#111" stroke="#111" stroke-width="0.22">V</text>
<text x="169.5" y="100.2" font-family="Liberation Sans, Arial, sans-serif" font-size="6.4" font-weight="bold" fill="#111" stroke="#111" stroke-width="0.2">4+</text>
<text x="29.3" y="235.7" font-family="Liberation Serif, Times New Roman, serif" font-size="8.4" font-weight="bold" fill="#111">O <tspan font-style="italic">1s</tspan></text>
<text x="52.3" y="235.9" font-family="Liberation Serif, Times New Roman, serif" font-size="8.4" font-weight="bold" fill="#111">O <tspan font-style="italic">1s</tspan></text>
<text x="88.9" y="236.7" font-family="Liberation Serif, Times New Roman, serif" font-size="8.6" font-weight="bold" fill="#111">V <tspan font-style="italic">2p<tspan font-size="6.0" dy="1.9">1/2</tspan></tspan></text>
<text x="144.6" y="236.7" font-family="Liberation Serif, Times New Roman, serif" font-size="8.6" font-weight="bold" fill="#111">V <tspan font-style="italic">2p<tspan font-size="6.0" dy="1.9">3/2</tspan></tspan></text>
<text x="20.3" y="249.8" font-family="Liberation Sans, Arial, sans-serif" font-size="8.2" fill="#0a0a0a" stroke="#0a0a0a" stroke-width="0.3" text-anchor="middle">535</text>
<text x="57.8" y="249.8" font-family="Liberation Sans, Arial, sans-serif" font-size="8.2" fill="#0a0a0a" stroke="#0a0a0a" stroke-width="0.3" text-anchor="middle">530</text>
<text x="95.4" y="249.8" font-family="Liberation Sans, Arial, sans-serif" font-size="8.2" fill="#0a0a0a" stroke="#0a0a0a" stroke-width="0.3" text-anchor="middle">525</text>
<text x="133.0" y="249.8" font-family="Liberation Sans, Arial, sans-serif" font-size="8.2" fill="#0a0a0a" stroke="#0a0a0a" stroke-width="0.3" text-anchor="middle">520</text>
<text x="170.5" y="249.8" font-family="Liberation Sans, Arial, sans-serif" font-size="8.2" fill="#0a0a0a" stroke="#0a0a0a" stroke-width="0.3" text-anchor="middle">515</text>
<text x="99.8" y="264.6" font-family="Liberation Sans, Arial, sans-serif" font-size="9.3" font-weight="bold" fill="#111" text-anchor="middle">Binding Energy (eV)</text>
<text transform="translate(10.2,138.5) rotate(-90)" font-family="Liberation Sans, Arial, sans-serif" font-size="12.4" font-weight="bold" fill="#111" text-anchor="middle">Intensity (a.u.)</text>
<g>
<defs><linearGradient id="v1" x1="0" y1="0" x2="0" y2="1"><stop offset="0" stop-color="#e81c4a"/><stop offset="0.55" stop-color="#dc1845"/><stop offset="1" stop-color="#f03a6c"/></linearGradient></defs>
<path d="M279 50 L282 52 L281.5 63 L278.5 64 Z" fill="#eef0ea"/>
<rect x="263.5" y="30" width="15.2" height="38" rx="1" fill="url(#v1)"/>
<rect x="263.5" y="30" width="15.2" height="4" fill="#f2427a"/>
<rect x="263.5" y="35.2" width="15.2" height="1.2" fill="#f4eeb0"/>
<rect x="270.5" y="44" width="4" height="18" fill="#b81238" opacity="0.55"/>
<rect x="263" y="20.5" width="16.6" height="10.1" rx="1.5" fill="#111"/>
<path d="M290.5 55 L293 54 L292.8 68 L290.8 68 Z" fill="#e8e8e8"/>
<path d="M293.4 39 L308.3 39 L308 69.3 L292.6 69.3 Z" fill="#140708"/>
<rect x="293.4" y="31" width="14.9" height="8.2" fill="#eef0c0"/>
<rect x="293.4" y="32.8" width="14.9" height="0.8" fill="#8a7060"/>
<rect x="293.4" y="37.1" width="14.9" height="1.1" fill="#e84a70"/>
<path d="M293.9 22.3 Q294.1 20.9 296 20.9 L308.4 20.9 Q310.3 20.9 310.3 22.3 L310.1 31.1 L293.5 31.1 Z" fill="#111"/>
</g>
<rect x="239.3" y="5.6" width="146" height="107.2" fill="none" stroke="#6e7278" stroke-width="1"/>
<line x1="236.3" y1="5.60" x2="239.3" y2="5.60" stroke="#6e7278" stroke-width="1"/>
<text x="230.2" y="8.20" font-family="Liberation Sans, Arial, sans-serif" font-size="7.2" font-weight="bold" fill="#111" stroke="#111" stroke-width="0.22" text-anchor="end">3.0x10</text>
<text x="230.5" y="5.50" font-family="Liberation Sans, Arial, sans-serif" font-size="4.4" fill="#111" letter-spacing="-0.3">11</text>
<line x1="236.3" y1="23.47" x2="239.3" y2="23.47" stroke="#6e7278" stroke-width="1"/>
<text x="230.2" y="26.07" font-family="Liberation Sans, Arial, sans-serif" font-size="7.2" font-weight="bold" fill="#111" stroke="#111" stroke-width="0.22" text-anchor="end">2.5x10</text>
<text x="230.5" y="23.37" font-family="Liberation Sans, Arial, sans-serif" font-size="4.4" fill="#111" letter-spacing="-0.3">11</text>
<line x1="236.3" y1="41.33" x2="239.3" y2="41.33" stroke="#6e7278" stroke-width="1"/>
<text x="230.2" y="43.93" font-family="Liberation Sans, Arial, sans-serif" font-size="7.2" font-weight="bold" fill="#111" stroke="#111" stroke-width="0.22" text-anchor="end">2.0x10</text>
<text x="230.5" y="41.23" font-family="Liberation Sans, Arial, sans-serif" font-size="4.4" fill="#111" letter-spacing="-0.3">11</text>
<line x1="236.3" y1="59.20" x2="239.3" y2="59.20" stroke="#6e7278" stroke-width="1"/>
<text x="230.2" y="61.80" font-family="Liberation Sans, Arial, sans-serif" font-size="7.2" font-weight="bold" fill="#111" stroke="#111" stroke-width="0.22" text-anchor="end">1.5x10</text>
<text x="230.5" y="59.10" font-family="Liberation Sans, Arial, sans-serif" font-size="4.4" fill="#111" letter-spacing="-0.3">11</text>
<line x1="236.3" y1="77.07" x2="239.3" y2="77.07" stroke="#6e7278" stroke-width="1"/>
<text x="230.2" y="79.67" font-family="Liberation Sans, Arial, sans-serif" font-size="7.2" font-weight="bold" fill="#111" stroke="#111" stroke-width="0.22" text-anchor="end">1.0x10</text>
<text x="230.5" y="76.97" font-family="Liberation Sans, Arial, sans-serif" font-size="4.4" fill="#111" letter-spacing="-0.3">11</text>
<line x1="236.3" y1="94.93" x2="239.3" y2="94.93" stroke="#6e7278" stroke-width="1"/>
<text x="230.2" y="97.53" font-family="Liberation Sans, Arial, sans-serif" font-size="7.2" font-weight="bold" fill="#111" stroke="#111" stroke-width="0.22" text-anchor="end">5.0x10</text>
<text x="230.5" y="94.83" font-family="Liberation Sans, Arial, sans-serif" font-size="4.4" fill="#111" letter-spacing="-0.3">10</text>
<line x1="236.3" y1="112.80" x2="239.3" y2="112.80" stroke="#6e7278" stroke-width="1"/>
<text x="235.5" y="115.40" font-family="Liberation Sans, Arial, sans-serif" font-size="7.2" font-weight="bold" fill="#111" stroke="#111" stroke-width="0.22" text-anchor="end">0.0</text>
<line x1="239.30" y1="112.8" x2="239.30" y2="115" stroke="#6e7278" stroke-width="1"/>
<text x="239.30" y="123.1" font-family="Liberation Sans, Arial, sans-serif" font-size="8.2" font-weight="bold" fill="#111" stroke="#111" stroke-width="0.22" text-anchor="middle">1.8</text>
<line x1="260.16" y1="112.8" x2="260.16" y2="115" stroke="#6e7278" stroke-width="1"/>
<text x="260.16" y="123.1" font-family="Liberation Sans, Arial, sans-serif" font-size="8.2" font-weight="bold" fill="#111" stroke="#111" stroke-width="0.22" text-anchor="middle">2.0</text>
<line x1="281.01" y1="112.8" x2="281.01" y2="115" stroke="#6e7278" stroke-width="1"/>
<text x="281.01" y="123.1" font-family="Liberation Sans, Arial, sans-serif" font-size="8.2" font-weight="bold" fill="#111" stroke="#111" stroke-width="0.22" text-anchor="middle">2.2</text>
<line x1="301.87" y1="112.8" x2="301.87" y2="115" stroke="#6e7278" stroke-width="1"/>
<text x="301.87" y="123.1" font-family="Liberation Sans, Arial, sans-serif" font-size="8.2" font-weight="bold" fill="#111" stroke="#111" stroke-width="0.22" text-anchor="middle">2.4</text>
<line x1="322.73" y1="112.8" x2="322.73" y2="115" stroke="#6e7278" stroke-width="1"/>
<text x="322.73" y="123.1" font-family="Liberation Sans, Arial, sans-serif" font-size="8.2" font-weight="bold" fill="#111" stroke="#111" stroke-width="0.22" text-anchor="middle">2.6</text>
<line x1="343.59" y1="112.8" x2="343.59" y2="115" stroke="#6e7278" stroke-width="1"/>
<text x="343.59" y="123.1" font-family="Liberation Sans, Arial, sans-serif" font-size="8.2" font-weight="bold" fill="#111" stroke="#111" stroke-width="0.22" text-anchor="middle">2.8</text>
<line x1="364.44" y1="112.8" x2="364.44" y2="115" stroke="#6e7278" stroke-width="1"/>
<text x="364.44" y="123.1" font-family="Liberation Sans, Arial, sans-serif" font-size="8.2" font-weight="bold" fill="#111" stroke="#111" stroke-width="0.22" text-anchor="middle">3.0</text>
<line x1="385.30" y1="112.8" x2="385.30" y2="115" stroke="#6e7278" stroke-width="1"/>
<text x="385.30" y="123.1" font-family="Liberation Sans, Arial, sans-serif" font-size="8.2" font-weight="bold" fill="#111" stroke="#111" stroke-width="0.22" text-anchor="middle">3.2</text>
<text x="312.3" y="136" font-family="Liberation Sans, Arial, sans-serif" font-size="7.4" font-weight="bold" fill="#111" stroke="#111" stroke-width="0.2" text-anchor="middle">E (eV)</text>
<text x="241.4" y="17.7" font-family="Liberation Sans, Arial, sans-serif" font-size="10.4" fill="#111" stroke="#111" stroke-width="0.3" textLength="6.2" lengthAdjust="spacingAndGlyphs">b</text>
<text transform="translate(203.9,62.2) rotate(-90)" font-family="Liberation Sans, Arial, sans-serif" font-size="8.8" font-weight="bold" fill="#111" text-anchor="middle">&#945;<tspan font-size="5" dy="-3">2</tspan><tspan dy="3">E</tspan><tspan font-size="5" dy="-3">2</tspan></text>
<line x1="333.8" y1="113" x2="359.4" y2="5.6" stroke="#6a7a8a" stroke-width="0.9" stroke-dasharray="2.2 1.6"/>
<path d="M239.80 112.00L240.05 112.00L240.30 112.00L240.55 112.00L240.80 112.00L241.05 112.00L241.30 112.00L241.55 112.00L241.80 112.00L242.05 112.00L242.30 112.00L242.55 112.00L242.80 112.00L243.05 112.00L243.30 112.00L243.55 112.00L243.80 112.00L244.05 112.00L244.30 112.00L244.55 112.00L244.80 112.00L245.05 112.00L245.30 112.00L245.55 112.00L245.80 112.00L246.05 112.00L246.30 112.00L246.55 112.00L246.80 112.00L247.05 112.00L247.30 112.00L247.55 112.00L247.80 112.00L248.05 112.00L248.30 112.00L248.55 112.00L248.80 112.00L249.05 112.00L249.30 112.00L249.55 112.00L249.80 112.00L250.05 112.00L250.30 112.00L250.55 112.00L250.80 112.00L251.05 112.00L251.30 112.00L251.55 112.00L251.80 112.00L252.05 112.00L252.30 112.00L252.55 112.00L252.80 112.00L253.05 112.00L253.30 112.00L253.55 112.00L253.80 112.00L254.05 112.00L254.30 112.00L254.55 112.00L254.80 112.00L255.05 112.00L255.30 112.00L255.55 112.00L255.80 112.00L256.05 112.00L256.30 112.00L256.55 112.00L256.80 112.00L257.05 112.00L257.30 112.00L257.55 112.00L257.80 112.00L258.05 112.00L258.30 112.00L258.55 112.00L258.80 112.00L259.05 112.00L259.30 112.00L259.55 112.00L259.80 112.00L260.05 112.00L260.30 112.00L260.55 112.00L260.80 112.00L261.05 112.00L261.30 112.00L261.55 112.00L261.80 112.00L262.05 112.00L262.30 112.00L262.55 112.00L262.80 112.00L263.05 112.00L263.30 112.00L263.55 112.00L263.80 112.00L264.05 112.00L264.30 112.00L264.55 112.00L264.80 112.00L265.05 112.00L265.30 112.00L265.55 112.00L265.80 112.00L266.05 112.00L266.30 112.00L266.55 112.00L266.80 112.00L267.05 112.00L267.30 112.00L267.55 112.00L267.80 112.00L268.05 112.00L268.30 112.00L268.55 112.00L268.80 112.00L269.05 112.00L269.30 112.00L269.55 112.00L269.80 112.00L270.05 112.00L270.30 112.00L270.55 112.00L270.80 112.00L271.05 112.00L271.30 112.00L271.55 112.00L271.80 112.00L272.05 112.00L272.30 112.00L272.55 112.00L272.80 112.00L273.05 112.00L273.30 112.00L273.55 112.00L273.80 112.00L274.05 112.00L274.30 112.00L274.55 112.00L274.80 112.00L275.05 112.00L275.30 112.00L275.55 112.00L275.80 112.00L276.05 112.00L276.30 112.00L276.55 112.00L276.80 112.00L277.05 112.00L277.30 112.00L277.55 112.00L277.80 112.00L278.05 112.00L278.30 112.00L278.55 112.00L278.80 112.00L279.05 112.00L279.30 112.00L279.55 112.00L279.80 112.00L280.05 112.00L280.30 112.00L280.55 112.00L280.80 112.00L281.05 112.00L281.30 112.00L281.55 112.00L281.80 112.00L282.05 112.00L282.30 112.00L282.55 112.00L282.80 112.00L283.05 112.00L283.30 112.00L283.55 112.00L283.80 112.00L284.05 112.00L284.30 112.00L284.55 112.00L284.80 112.00L285.05 112.00L285.30 112.00L285.55 112.00L285.80 112.00L286.05 112.00L286.30 112.00L286.55 112.00L286.80 112.00L287.05 112.00L287.30 112.00L287.55 112.00L287.80 112.00L288.05 112.00L288.30 112.00L288.55 112.00L288.80 112.00L289.05 112.00L289.30 112.00L289.55 112.00L289.80 112.00L290.05 112.00L290.30 112.00L290.55 112.00L290.80 112.00L291.05 112.00L291.30 112.00L291.55 112.00L291.80 112.00L292.05 112.00L292.30 112.00L292.55 112.00L292.80 112.00L293.05 112.00L293.30 112.00L293.55 112.00L293.80 112.00L294.05 112.00L294.30 112.00L294.55 112.00L294.80 112.00L295.05 112.00L295.30 112.00L295.55 112.00L295.80 112.00L296.05 112.00L296.30 112.00L296.55 112.00L296.80 112.00L297.05 112.00L297.30 112.00L297.55 112.00L297.80 112.00L298.05 112.00L298.30 112.00L298.55 112.00L298.80 112.00L299.05 112.00L299.30 112.00L299.55 112.00L299.80 112.00L300.05 112.00L300.30 112.00L300.55 112.00L300.80 112.00L301.05 112.00L301.30 112.00L301.55 112.00L301.80 112.00L302.05 112.00L302.30 112.00L302.55 112.00L302.80 112.00L303.05 112.00L303.30 112.00L303.55 112.00L303.80 112.00L304.05 112.00L304.30 112.00L304.55 112.00L304.80 112.00L305.05 112.00L305.30 112.00L305.55 112.00L305.80 112.00L306.05 112.00L306.30 112.00L306.55 112.00L306.80 112.00L307.05 112.00L307.30 112.00L307.55 112.00L307.80 112.00L308.05 112.00L308.30 112.00L308.55 112.00L308.80 112.00L309.05 112.00L309.30 112.00L309.55 112.00L309.80 112.00L310.05 112.00L310.30 112.00L310.55 112.00L310.80 112.00L311.05 112.00L311.30 112.00L311.55 112.00L311.80 112.00L312.05 112.00L312.30 112.00L312.55 112.00L312.80 111.99L313.05 111.99L313.30 111.99L313.55 111.98L313.80 111.98L314.05 111.97L314.30 111.96L314.55 111.95L314.80 111.94L315.05 111.93L315.30 111.92L315.55 111.90L315.80 111.89L316.05 111.87L316.30 111.85L316.55 111.83L316.80 111.80L317.05 111.77L317.30 111.74L317.55 111.71L317.80 111.68L318.05 111.64L318.30 111.60L318.55 111.56L318.80 111.52L319.05 111.47L319.30 111.42L319.55 111.36L319.80 111.30L320.05 111.24L320.30 111.18L320.55 111.11L320.80 111.04L321.05 110.96L321.30 110.89L321.55 110.80L321.80 110.72L322.05 110.62L322.30 110.53L322.55 110.43L322.80 110.32L323.05 110.22L323.30 110.10L323.55 109.98L323.80 109.86L324.05 109.73L324.30 109.60L324.55 109.46L324.80 109.32L325.05 109.17L325.30 109.02L325.55 108.86L325.80 108.69L326.05 108.52L326.30 108.35L326.55 108.16L326.80 107.98L327.05 107.78L327.30 107.58L327.55 107.38L327.80 107.16L328.05 106.94L328.30 106.72L328.55 106.49L328.80 106.25L329.05 106.00L329.30 105.75L329.55 105.49L329.80 105.22L330.05 104.95L330.30 104.67L330.55 104.38L330.80 104.08L331.05 103.78L331.30 103.47L331.55 103.15L331.80 102.82L332.05 102.49L332.30 102.14L332.55 101.79L332.80 101.43L333.05 101.06L333.30 100.69L333.55 100.30L333.80 99.91L334.05 99.51L334.30 99.10L334.55 98.68L334.80 98.25L335.05 97.81L335.30 97.36L335.55 96.91L335.80 96.44L336.05 95.97L336.30 95.48L336.55 94.99L336.80 94.48L337.05 93.97L337.30 93.44L337.55 92.91L337.80 92.37L338.05 91.81L338.30 91.25L338.55 90.67L338.80 90.09L339.05 89.49L339.30 88.88L339.55 88.26L339.80 87.63L340.05 86.99L340.30 86.34L340.55 85.68L340.80 85.01L341.05 84.32L341.30 83.63L341.55 82.92L341.80 82.20L342.05 81.47L342.30 80.72L342.55 79.97L342.80 79.20L343.05 78.42L343.30 77.63L343.55 76.82L343.80 76.01L344.05 75.18L344.30 74.34L344.55 73.48L344.80 72.61L345.05 71.73L345.30 70.84L345.55 69.93L345.80 69.01L346.05 68.08L346.30 67.13L346.55 66.17L346.80 65.20L347.05 64.21L347.30 63.21L347.55 62.20L347.80 61.17L348.05 60.12L348.30 59.07L348.55 58.00L348.80 56.91L349.05 55.81L349.30 54.69L349.55 53.56L349.80 52.42L350.05 51.26L350.30 50.09L350.55 48.90L350.80 47.69L351.05 46.47L351.30 45.24L351.55 43.99L351.80 42.72L352.05 41.44L352.30 40.15L352.55 38.83L352.80 37.50L353.05 36.16L353.30 34.80L353.55 33.42L353.80 32.03L354.05 30.62L354.30 29.19L354.55 27.75L354.80 26.29L355.05 24.82L355.30 23.32L355.55 21.81L355.80 20.29L356.05 18.74L356.30 17.18L356.55 15.60L356.80 14.01L357.05 12.39L357.30 10.76L357.55 9.11L357.80 7.45L358.05 5.76" fill="none" stroke="#ff1a48" stroke-width="1.35"/>
<g fill="#fff" stroke="#ff1a48" stroke-width="0.7"><circle cx="240.50" cy="112.00" r="0.80"/><circle cx="242.60" cy="112.00" r="0.80"/><circle cx="244.70" cy="112.00" r="0.80"/><circle cx="246.80" cy="112.00" r="0.80"/><circle cx="248.90" cy="112.00" r="0.80"/><circle cx="251.00" cy="112.00" r="0.80"/><circle cx="253.10" cy="112.00" r="0.80"/><circle cx="255.20" cy="112.00" r="0.80"/><circle cx="257.30" cy="112.00" r="0.80"/><circle cx="259.40" cy="112.00" r="0.80"/><circle cx="261.50" cy="112.00" r="0.80"/><circle cx="263.60" cy="112.00" r="0.80"/><circle cx="265.70" cy="112.00" r="0.80"/><circle cx="267.80" cy="112.00" r="0.80"/><circle cx="269.90" cy="112.00" r="0.80"/><circle cx="272.00" cy="112.00" r="0.80"/><circle cx="274.10" cy="112.00" r="0.80"/><circle cx="276.20" cy="112.00" r="0.80"/><circle cx="278.30" cy="112.00" r="0.80"/><circle cx="280.40" cy="112.00" r="0.80"/><circle cx="282.50" cy="112.00" r="0.80"/><circle cx="284.60" cy="112.00" r="0.80"/><circle cx="286.70" cy="112.00" r="0.80"/><circle cx="288.80" cy="112.00" r="0.80"/><circle cx="290.90" cy="112.00" r="0.80"/><circle cx="293.00" cy="112.00" r="0.80"/><circle cx="295.10" cy="112.00" r="0.80"/><circle cx="297.20" cy="112.00" r="0.80"/><circle cx="299.30" cy="112.00" r="0.80"/><circle cx="301.40" cy="112.00" r="0.80"/><circle cx="303.50" cy="112.00" r="0.80"/><circle cx="305.60" cy="112.00" r="0.80"/><circle cx="307.70" cy="112.00" r="0.80"/><circle cx="309.80" cy="112.00" r="0.80"/><circle cx="311.90" cy="112.00" r="0.80"/><circle cx="314.00" cy="111.97" r="0.80"/><circle cx="316.10" cy="111.86" r="0.80"/><circle cx="318.20" cy="111.62" r="0.80"/><circle cx="320.30" cy="111.18" r="0.80"/><circle cx="322.40" cy="110.49" r="1.30"/><circle cx="324.50" cy="109.49" r="1.30"/><circle cx="326.60" cy="108.13" r="1.30"/><circle cx="328.70" cy="106.34" r="1.30"/><circle cx="330.80" cy="104.08" r="1.30"/><circle cx="332.90" cy="101.29" r="1.30"/><circle cx="335.00" cy="97.90" r="1.30"/><circle cx="337.10" cy="93.86" r="1.30"/><circle cx="339.20" cy="89.13" r="1.30"/><circle cx="341.30" cy="83.63" r="1.30"/><circle cx="343.40" cy="77.31" r="1.30"/><circle cx="345.50" cy="70.12" r="1.30"/><circle cx="347.60" cy="61.99" r="1.30"/><circle cx="349.70" cy="52.88" r="1.30"/><circle cx="351.80" cy="42.72" r="1.30"/><circle cx="353.90" cy="31.47" r="1.30"/><circle cx="356.00" cy="19.05" r="1.30"/></g>
<line x1="343.1" y1="113" x2="371.0" y2="5.6" stroke="#6a7a8a" stroke-width="0.9" stroke-dasharray="2.2 1.6"/>
<path d="M239.80 112.00L240.05 112.00L240.30 112.00L240.55 112.00L240.80 112.00L241.05 112.00L241.30 112.00L241.55 112.00L241.80 112.00L242.05 112.00L242.30 112.00L242.55 112.00L242.80 112.00L243.05 112.00L243.30 112.00L243.55 112.00L243.80 112.00L244.05 112.00L244.30 112.00L244.55 112.00L244.80 112.00L245.05 112.00L245.30 112.00L245.55 112.00L245.80 112.00L246.05 112.00L246.30 112.00L246.55 112.00L246.80 112.00L247.05 112.00L247.30 112.00L247.55 112.00L247.80 112.00L248.05 112.00L248.30 112.00L248.55 112.00L248.80 112.00L249.05 112.00L249.30 112.00L249.55 112.00L249.80 112.00L250.05 112.00L250.30 112.00L250.55 112.00L250.80 112.00L251.05 112.00L251.30 112.00L251.55 112.00L251.80 112.00L252.05 112.00L252.30 112.00L252.55 112.00L252.80 112.00L253.05 112.00L253.30 112.00L253.55 112.00L253.80 112.00L254.05 112.00L254.30 112.00L254.55 112.00L254.80 112.00L255.05 112.00L255.30 112.00L255.55 112.00L255.80 112.00L256.05 112.00L256.30 112.00L256.55 112.00L256.80 112.00L257.05 112.00L257.30 112.00L257.55 112.00L257.80 112.00L258.05 112.00L258.30 112.00L258.55 112.00L258.80 112.00L259.05 112.00L259.30 112.00L259.55 112.00L259.80 112.00L260.05 112.00L260.30 112.00L260.55 112.00L260.80 112.00L261.05 112.00L261.30 112.00L261.55 112.00L261.80 112.00L262.05 112.00L262.30 112.00L262.55 112.00L262.80 112.00L263.05 112.00L263.30 112.00L263.55 112.00L263.80 112.00L264.05 112.00L264.30 112.00L264.55 112.00L264.80 112.00L265.05 112.00L265.30 112.00L265.55 112.00L265.80 112.00L266.05 112.00L266.30 112.00L266.55 112.00L266.80 112.00L267.05 112.00L267.30 112.00L267.55 112.00L267.80 112.00L268.05 112.00L268.30 112.00L268.55 112.00L268.80 112.00L269.05 112.00L269.30 112.00L269.55 112.00L269.80 112.00L270.05 112.00L270.30 112.00L270.55 112.00L270.80 112.00L271.05 112.00L271.30 112.00L271.55 112.00L271.80 112.00L272.05 112.00L272.30 112.00L272.55 112.00L272.80 112.00L273.05 112.00L273.30 112.00L273.55 112.00L273.80 112.00L274.05 112.00L274.30 112.00L274.55 112.00L274.80 112.00L275.05 112.00L275.30 112.00L275.55 112.00L275.80 112.00L276.05 112.00L276.30 112.00L276.55 112.00L276.80 112.00L277.05 112.00L277.30 112.00L277.55 112.00L277.80 112.00L278.05 112.00L278.30 112.00L278.55 112.00L278.80 112.00L279.05 112.00L279.30 112.00L279.55 112.00L279.80 112.00L280.05 112.00L280.30 112.00L280.55 112.00L280.80 112.00L281.05 112.00L281.30 112.00L281.55 112.00L281.80 112.00L282.05 112.00L282.30 112.00L282.55 112.00L282.80 112.00L283.05 112.00L283.30 112.00L283.55 112.00L283.80 112.00L284.05 112.00L284.30 112.00L284.55 112.00L284.80 112.00L285.05 112.00L285.30 112.00L285.55 112.00L285.80 112.00L286.05 112.00L286.30 112.00L286.55 112.00L286.80 112.00L287.05 112.00L287.30 112.00L287.55 112.00L287.80 112.00L288.05 112.00L288.30 112.00L288.55 112.00L288.80 112.00L289.05 112.00L289.30 112.00L289.55 112.00L289.80 112.00L290.05 112.00L290.30 112.00L290.55 112.00L290.80 112.00L291.05 112.00L291.30 112.00L291.55 112.00L291.80 112.00L292.05 112.00L292.30 112.00L292.55 112.00L292.80 112.00L293.05 112.00L293.30 112.00L293.55 112.00L293.80 112.00L294.05 112.00L294.30 112.00L294.55 112.00L294.80 112.00L295.05 112.00L295.30 112.00L295.55 112.00L295.80 112.00L296.05 112.00L296.30 112.00L296.55 112.00L296.80 112.00L297.05 112.00L297.30 112.00L297.55 112.00L297.80 112.00L298.05 112.00L298.30 112.00L298.55 112.00L298.80 112.00L299.05 112.00L299.30 112.00L299.55 112.00L299.80 112.00L300.05 112.00L300.30 112.00L300.55 112.00L300.80 112.00L301.05 112.00L301.30 112.00L301.55 112.00L301.80 112.00L302.05 112.00L302.30 112.00L302.55 112.00L302.80 112.00L303.05 112.00L303.30 112.00L303.55 112.00L303.80 112.00L304.05 112.00L304.30 112.00L304.55 112.00L304.80 112.00L305.05 112.00L305.30 112.00L305.55 112.00L305.80 112.00L306.05 112.00L306.30 112.00L306.55 112.00L306.80 112.00L307.05 112.00L307.30 112.00L307.55 112.00L307.80 112.00L308.05 112.00L308.30 112.00L308.55 112.00L308.80 112.00L309.05 112.00L309.30 112.00L309.55 112.00L309.80 112.00L310.05 112.00L310.30 112.00L310.55 112.00L310.80 112.00L311.05 112.00L311.30 112.00L311.55 112.00L311.80 112.00L312.05 112.00L312.30 112.00L312.55 112.00L312.80 112.00L313.05 112.00L313.30 112.00L313.55 112.00L313.80 112.00L314.05 112.00L314.30 112.00L314.55 112.00L314.80 112.00L315.05 112.00L315.30 112.00L315.55 112.00L315.80 112.00L316.05 112.00L316.30 112.00L316.55 112.00L316.80 112.00L317.05 112.00L317.30 112.00L317.55 112.00L317.80 112.00L318.05 112.00L318.30 112.00L318.55 112.00L318.80 112.00L319.05 112.00L319.30 112.00L319.55 112.00L319.80 112.00L320.05 112.00L320.30 112.00L320.55 112.00L320.80 112.00L321.05 112.00L321.30 112.00L321.55 112.00L321.80 112.00L322.05 112.00L322.30 112.00L322.55 112.00L322.80 112.00L323.05 112.00L323.30 112.00L323.55 112.00L323.80 111.99L324.05 111.99L324.30 111.99L324.55 111.98L324.80 111.98L325.05 111.97L325.30 111.96L325.55 111.95L325.80 111.94L326.05 111.93L326.30 111.92L326.55 111.90L326.80 111.88L327.05 111.86L327.30 111.84L327.55 111.82L327.80 111.80L328.05 111.77L328.30 111.74L328.55 111.70L328.80 111.67L329.05 111.63L329.30 111.59L329.55 111.55L329.80 111.50L330.05 111.45L330.30 111.40L330.55 111.34L330.80 111.28L331.05 111.22L331.30 111.16L331.55 111.09L331.80 111.01L332.05 110.93L332.30 110.85L332.55 110.77L332.80 110.68L333.05 110.58L333.30 110.48L333.55 110.38L333.80 110.27L334.05 110.16L334.30 110.05L334.55 109.92L334.80 109.80L335.05 109.67L335.30 109.53L335.55 109.39L335.80 109.24L336.05 109.09L336.30 108.93L336.55 108.77L336.80 108.60L337.05 108.42L337.30 108.24L337.55 108.05L337.80 107.86L338.05 107.66L338.30 107.45L338.55 107.24L338.80 107.02L339.05 106.80L339.30 106.56L339.55 106.32L339.80 106.08L340.05 105.83L340.30 105.57L340.55 105.30L340.80 105.02L341.05 104.74L341.30 104.45L341.55 104.15L341.80 103.85L342.05 103.54L342.30 103.22L342.55 102.89L342.80 102.55L343.05 102.21L343.30 101.85L343.55 101.49L343.80 101.12L344.05 100.74L344.30 100.36L344.55 99.96L344.80 99.56L345.05 99.14L345.30 98.72L345.55 98.29L345.80 97.84L346.05 97.39L346.30 96.93L346.55 96.46L346.80 95.98L347.05 95.50L347.30 95.00L347.55 94.49L347.80 93.97L348.05 93.44L348.30 92.90L348.55 92.35L348.80 91.79L349.05 91.22L349.30 90.64L349.55 90.04L349.80 89.44L350.05 88.83L350.30 88.20L350.55 87.57L350.80 86.92L351.05 86.26L351.30 85.59L351.55 84.91L351.80 84.21L352.05 83.51L352.30 82.79L352.55 82.06L352.80 81.32L353.05 80.57L353.30 79.80L353.55 79.02L353.80 78.23L354.05 77.43L354.30 76.62L354.55 75.79L354.80 74.95L355.05 74.09L355.30 73.23L355.55 72.35L355.80 71.45L356.05 70.55L356.30 69.63L356.55 68.70L356.80 67.75L357.05 66.79L357.30 65.81L357.55 64.83L357.80 63.82L358.05 62.81L358.30 61.78L358.55 60.73L358.80 59.67L359.05 58.60L359.30 57.51L359.55 56.41L359.80 55.29L360.05 54.16L360.30 53.01L360.55 51.85L360.80 50.67L361.05 49.48L361.30 48.27L361.55 47.04L361.80 45.80L362.05 44.55L362.30 43.28L362.55 41.99L362.80 40.69L363.05 39.37L363.30 38.03L363.55 36.68L363.80 35.31L364.05 33.93L364.30 32.53L364.55 31.11L364.80 29.68L365.05 28.23L365.30 26.76L365.55 25.27L365.80 23.77L366.05 22.25L366.30 20.71L366.55 19.16L366.80 17.59L367.05 16.00L367.30 14.39L367.55 12.77L367.80 11.12L368.05 9.46L368.30 7.78L368.55 6.09" fill="none" stroke="#1de01d" stroke-width="1.35"/>
<g fill="#fff" stroke="#1de01d" stroke-width="0.7"><circle cx="240.50" cy="112.00" r="0.80"/><circle cx="242.60" cy="112.00" r="0.80"/><circle cx="244.70" cy="112.00" r="0.80"/><circle cx="246.80" cy="112.00" r="0.80"/><circle cx="248.90" cy="112.00" r="0.80"/><circle cx="251.00" cy="112.00" r="0.80"/><circle cx="253.10" cy="112.00" r="0.80"/><circle cx="255.20" cy="112.00" r="0.80"/><circle cx="257.30" cy="112.00" r="0.80"/><circle cx="259.40" cy="112.00" r="0.80"/><circle cx="261.50" cy="112.00" r="0.80"/><circle cx="263.60" cy="112.00" r="0.80"/><circle cx="265.70" cy="112.00" r="0.80"/><circle cx="267.80" cy="112.00" r="0.80"/><circle cx="269.90" cy="112.00" r="0.80"/><circle cx="272.00" cy="112.00" r="0.80"/><circle cx="274.10" cy="112.00" r="0.80"/><circle cx="276.20" cy="112.00" r="0.80"/><circle cx="278.30" cy="112.00" r="0.80"/><circle cx="280.40" cy="112.00" r="0.80"/><circle cx="282.50" cy="112.00" r="0.80"/><circle cx="284.60" cy="112.00" r="0.80"/><circle cx="286.70" cy="112.00" r="0.80"/><circle cx="288.80" cy="112.00" r="0.80"/><circle cx="290.90" cy="112.00" r="0.80"/><circle cx="293.00" cy="112.00" r="0.80"/><circle cx="295.10" cy="112.00" r="0.80"/><circle cx="297.20" cy="112.00" r="0.80"/><circle cx="299.30" cy="112.00" r="0.80"/><circle cx="301.40" cy="112.00" r="0.80"/><circle cx="303.50" cy="112.00" r="0.80"/><circle cx="305.60" cy="112.00" r="0.80"/><circle cx="307.70" cy="112.00" r="0.80"/><circle cx="309.80" cy="112.00" r="0.80"/><circle cx="311.90" cy="112.00" r="0.80"/><circle cx="314.00" cy="112.00" r="0.80"/><circle cx="316.10" cy="112.00" r="0.80"/><circle cx="318.20" cy="112.00" r="0.80"/><circle cx="320.30" cy="112.00" r="0.80"/><circle cx="322.40" cy="112.00" r="0.80"/><circle cx="324.50" cy="111.98" r="0.80"/><circle cx="326.60" cy="111.90" r="0.80"/><circle cx="328.70" cy="111.68" r="0.80"/><circle cx="330.80" cy="111.28" r="0.80"/><circle cx="332.90" cy="110.64" r="0.80"/><circle cx="335.00" cy="109.69" r="1.30"/><circle cx="337.10" cy="108.38" r="1.30"/><circle cx="339.20" cy="106.66" r="1.30"/><circle cx="341.30" cy="104.45" r="1.30"/><circle cx="343.40" cy="101.71" r="1.30"/><circle cx="345.50" cy="98.37" r="1.30"/><circle cx="347.60" cy="94.38" r="1.30"/><circle cx="349.70" cy="89.68" r="1.30"/><circle cx="351.80" cy="84.21" r="1.30"/><circle cx="353.90" cy="77.92" r="1.30"/><circle cx="356.00" cy="70.73" r="1.30"/><circle cx="358.10" cy="62.60" r="1.30"/><circle cx="360.20" cy="53.47" r="1.30"/><circle cx="362.30" cy="43.28" r="1.30"/><circle cx="364.40" cy="31.96" r="1.30"/><circle cx="366.50" cy="19.47" r="1.30"/><circle cx="368.60" cy="5.75" r="1.30"/></g>
<text x="312.4" y="90.8" font-family="Liberation Sans, Arial, sans-serif" font-size="7.4" font-weight="bold" fill="#111" stroke="#111" stroke-width="0.22">2.7 eV</text>
<text x="355.2" y="92.2" font-family="Liberation Sans, Arial, sans-serif" font-size="7.4" font-weight="bold" fill="#111" stroke="#111" stroke-width="0.22">2.8 eV</text>
<text x="299.30" y="106.10" font-family="Liberation Sans, Arial, sans-serif" font-size="8.72" fill="#f81848" stroke="#f81848" stroke-width="0.39" textLength="20.80" lengthAdjust="spacingAndGlyphs">Fresh</text>
<text x="356.00" y="106.10" font-family="Liberation Sans, Arial, sans-serif" font-size="8.72" fill="#1fa51f" stroke="#1fa51f" stroke-width="0.39" textLength="20.20" lengthAdjust="spacingAndGlyphs">Aged</text>
<rect x="230.4" y="158.2" width="155.5" height="134.3" fill="none" stroke="#6e7278" stroke-width="1"/>
<line x1="230.40" y1="292.5" x2="230.40" y2="294.5" stroke="#6e7278" stroke-width="1"/>
<text x="230.40" y="303.8" font-family="Liberation Sans, Arial, sans-serif" font-size="8.4" font-weight="bold" fill="#111" stroke="#111" stroke-width="0.22" text-anchor="middle">18</text>
<line x1="247.68" y1="292.5" x2="247.68" y2="294.5" stroke="#6e7278" stroke-width="1"/>
<text x="247.68" y="303.8" font-family="Liberation Sans, Arial, sans-serif" font-size="8.4" font-weight="bold" fill="#111" stroke="#111" stroke-width="0.22" text-anchor="middle">16</text>
<line x1="264.96" y1="292.5" x2="264.96" y2="294.5" stroke="#6e7278" stroke-width="1"/>
<text x="264.96" y="303.8" font-family="Liberation Sans, Arial, sans-serif" font-size="8.4" font-weight="bold" fill="#111" stroke="#111" stroke-width="0.22" text-anchor="middle">14</text>
<line x1="282.23" y1="292.5" x2="282.23" y2="294.5" stroke="#6e7278" stroke-width="1"/>
<text x="282.23" y="303.8" font-family="Liberation Sans, Arial, sans-serif" font-size="8.4" font-weight="bold" fill="#111" stroke="#111" stroke-width="0.22" text-anchor="middle">12</text>
<line x1="299.51" y1="292.5" x2="299.51" y2="294.5" stroke="#6e7278" stroke-width="1"/>
<text x="299.51" y="303.8" font-family="Liberation Sans, Arial, sans-serif" font-size="8.4" font-weight="bold" fill="#111" stroke="#111" stroke-width="0.22" text-anchor="middle">10</text>
<line x1="316.79" y1="292.5" x2="316.79" y2="294.5" stroke="#6e7278" stroke-width="1"/>
<text x="316.79" y="303.8" font-family="Liberation Sans, Arial, sans-serif" font-size="8.4" font-weight="bold" fill="#111" stroke="#111" stroke-width="0.22" text-anchor="middle">8</text>
<line x1="334.07" y1="292.5" x2="334.07" y2="294.5" stroke="#6e7278" stroke-width="1"/>
<text x="334.07" y="303.8" font-family="Liberation Sans, Arial, sans-serif" font-size="8.4" font-weight="bold" fill="#111" stroke="#111" stroke-width="0.22" text-anchor="middle">6</text>
<line x1="351.34" y1="292.5" x2="351.34" y2="294.5" stroke="#6e7278" stroke-width="1"/>
<text x="351.34" y="303.8" font-family="Liberation Sans, Arial, sans-serif" font-size="8.4" font-weight="bold" fill="#111" stroke="#111" stroke-width="0.22" text-anchor="middle">4</text>
<line x1="368.62" y1="292.5" x2="368.62" y2="294.5" stroke="#6e7278" stroke-width="1"/>
<text x="368.62" y="303.8" font-family="Liberation Sans, Arial, sans-serif" font-size="8.4" font-weight="bold" fill="#111" stroke="#111" stroke-width="0.22" text-anchor="middle">2</text>
<line x1="385.90" y1="292.5" x2="385.90" y2="294.5" stroke="#6e7278" stroke-width="1"/>
<text x="385.90" y="303.8" font-family="Liberation Sans, Arial, sans-serif" font-size="8.4" font-weight="bold" fill="#111" stroke="#111" stroke-width="0.22" text-anchor="middle">0</text>
<text x="309.7" y="317.5" font-family="Liberation Sans, Arial, sans-serif" font-size="9.0" font-weight="bold" fill="#111" text-anchor="middle">Binding Energy (eV)</text>
<text transform="translate(223.7,228) rotate(-90)" font-family="Liberation Sans, Arial, sans-serif" font-size="10.9" font-weight="bold" fill="#111" text-anchor="middle">Intensity (a.u.)</text>
<text x="234.0" y="168.5" font-family="Liberation Sans, Arial, sans-serif" font-size="13.6" fill="#111" stroke="#111" stroke-width="0.25">c</text>
<line x1="247.90" y1="222.0" x2="247.90" y2="292.0" stroke="#aab0b8" stroke-width="0.90" stroke-dasharray="1 1.2"/>
<line x1="362.20" y1="204.0" x2="362.20" y2="292.0" stroke="#aab0b8" stroke-width="0.90" stroke-dasharray="1 1.2"/>
<path d="M230.50 223.70L240.00 222.80L246.20 221.40L247.50 215.80L248.50 205.00L249.50 188.00L250.50 179.00L252.00 174.00L254.00 172.40L256.00 172.60L258.00 174.50L262.30 182.00L266.00 188.50L269.70 194.75L273.00 199.50L277.20 203.40L282.00 206.50L287.00 208.40L292.00 209.20L297.00 209.30L305.00 208.80L315.00 208.30L325.00 208.30L335.00 209.30L340.00 211.30L344.70 213.80L350.00 217.50L355.90 221.30L360.00 223.30L363.00 224.30L370.00 225.00L385.50 225.20" fill="none" stroke="#ff1a48" stroke-width="1.3" stroke-linejoin="round"/>
<g fill="#fff" stroke="#ff1a48" stroke-width="0.75"><rect x="230.50" y="222.61" width="2" height="2"/><rect x="233.10" y="222.36" width="2" height="2"/><rect x="235.70" y="222.11" width="2" height="2"/><rect x="238.30" y="221.87" width="2" height="2"/><rect x="240.90" y="221.37" width="2" height="2"/><rect x="243.50" y="220.78" width="2" height="2"/><rect x="246.10" y="216.52" width="2" height="2"/><rect x="248.70" y="185.20" width="2" height="2"/><rect x="251.30" y="172.76" width="2" height="2"/><rect x="253.90" y="171.49" width="2" height="2"/><rect x="256.50" y="173.02" width="2" height="2"/><rect x="259.10" y="177.16" width="2" height="2"/><rect x="261.70" y="181.70" width="2" height="2"/><rect x="264.30" y="186.27" width="2" height="2"/><rect x="266.90" y="190.71" width="2" height="2"/><rect x="269.50" y="194.90" width="2" height="2"/><rect x="272.10" y="198.59" width="2" height="2"/><rect x="274.70" y="201.01" width="2" height="2"/><rect x="277.30" y="203.11" width="2" height="2"/><rect x="279.90" y="204.79" width="2" height="2"/><rect x="282.50" y="206.07" width="2" height="2"/><rect x="285.10" y="207.06" width="2" height="2"/><rect x="287.70" y="207.67" width="2" height="2"/><rect x="290.30" y="208.09" width="2" height="2"/><rect x="292.90" y="208.24" width="2" height="2"/><rect x="295.50" y="208.29" width="2" height="2"/><rect x="298.10" y="208.17" width="2" height="2"/><rect x="300.70" y="208.01" width="2" height="2"/><rect x="303.30" y="207.84" width="2" height="2"/><rect x="305.90" y="207.71" width="2" height="2"/><rect x="308.50" y="207.58" width="2" height="2"/><rect x="311.10" y="207.45" width="2" height="2"/><rect x="313.70" y="207.32" width="2" height="2"/><rect x="316.30" y="207.30" width="2" height="2"/><rect x="318.90" y="207.30" width="2" height="2"/><rect x="321.50" y="207.30" width="2" height="2"/><rect x="324.10" y="207.31" width="2" height="2"/><rect x="326.70" y="207.57" width="2" height="2"/><rect x="329.30" y="207.83" width="2" height="2"/><rect x="331.90" y="208.09" width="2" height="2"/><rect x="334.50" y="208.50" width="2" height="2"/><rect x="337.10" y="209.54" width="2" height="2"/><rect x="339.70" y="210.67" width="2" height="2"/><rect x="342.30" y="212.06" width="2" height="2"/><rect x="344.90" y="213.64" width="2" height="2"/><rect x="347.50" y="215.45" width="2" height="2"/><rect x="350.10" y="217.21" width="2" height="2"/><rect x="352.70" y="218.88" width="2" height="2"/><rect x="355.30" y="220.50" width="2" height="2"/><rect x="357.90" y="221.76" width="2" height="2"/><rect x="360.50" y="222.80" width="2" height="2"/><rect x="363.10" y="223.41" width="2" height="2"/><rect x="365.70" y="223.67" width="2" height="2"/><rect x="368.30" y="223.93" width="2" height="2"/><rect x="370.90" y="224.02" width="2" height="2"/><rect x="373.50" y="224.06" width="2" height="2"/><rect x="376.10" y="224.09" width="2" height="2"/><rect x="378.70" y="224.13" width="2" height="2"/><rect x="381.30" y="224.16" width="2" height="2"/><rect x="383.90" y="224.19" width="2" height="2"/></g>
<path d="M230.50 280.90L240.00 279.20L249.20 276.40L250.00 265.00L250.50 245.00L251.80 232.40L253.50 225.00L255.30 222.50L257.50 223.50L260.00 227.50L264.75 234.90L268.00 241.00L271.00 247.30L274.50 252.00L278.40 256.00L283.00 259.50L287.10 261.70L295.00 262.70L305.00 262.70L315.00 262.30L324.00 262.30L329.00 263.00L333.00 264.50L337.00 266.80L342.00 270.30L347.00 274.30L351.00 277.30L355.00 279.80L359.00 281.40L363.00 282.20L370.00 282.60L385.50 282.70" fill="none" stroke="#1de01d" stroke-width="1.3" stroke-linejoin="round"/>
<g fill="#fff" stroke="#1de01d" stroke-width="0.75"><rect x="230.50" y="279.72" width="2" height="2"/><rect x="233.10" y="279.26" width="2" height="2"/><rect x="235.70" y="278.79" width="2" height="2"/><rect x="238.30" y="278.33" width="2" height="2"/><rect x="240.90" y="277.62" width="2" height="2"/><rect x="243.50" y="276.83" width="2" height="2"/><rect x="246.10" y="276.04" width="2" height="2"/><rect x="248.70" y="268.28" width="2" height="2"/><rect x="251.30" y="229.22" width="2" height="2"/><rect x="253.90" y="222.06" width="2" height="2"/><rect x="256.50" y="222.50" width="2" height="2"/><rect x="259.10" y="226.66" width="2" height="2"/><rect x="261.70" y="230.71" width="2" height="2"/><rect x="264.30" y="234.93" width="2" height="2"/><rect x="266.90" y="239.81" width="2" height="2"/><rect x="269.50" y="245.25" width="2" height="2"/><rect x="272.10" y="249.12" width="2" height="2"/><rect x="274.70" y="252.23" width="2" height="2"/><rect x="277.30" y="254.90" width="2" height="2"/><rect x="279.90" y="256.90" width="2" height="2"/><rect x="282.50" y="258.77" width="2" height="2"/><rect x="285.10" y="260.16" width="2" height="2"/><rect x="287.70" y="260.90" width="2" height="2"/><rect x="290.30" y="261.23" width="2" height="2"/><rect x="292.90" y="261.56" width="2" height="2"/><rect x="295.50" y="261.70" width="2" height="2"/><rect x="298.10" y="261.70" width="2" height="2"/><rect x="300.70" y="261.70" width="2" height="2"/><rect x="303.30" y="261.70" width="2" height="2"/><rect x="305.90" y="261.62" width="2" height="2"/><rect x="308.50" y="261.52" width="2" height="2"/><rect x="311.10" y="261.42" width="2" height="2"/><rect x="313.70" y="261.31" width="2" height="2"/><rect x="316.30" y="261.30" width="2" height="2"/><rect x="318.90" y="261.30" width="2" height="2"/><rect x="321.50" y="261.30" width="2" height="2"/><rect x="324.10" y="261.45" width="2" height="2"/><rect x="326.70" y="261.82" width="2" height="2"/><rect x="329.30" y="262.49" width="2" height="2"/><rect x="331.90" y="263.46" width="2" height="2"/><rect x="334.50" y="264.94" width="2" height="2"/><rect x="337.10" y="266.57" width="2" height="2"/><rect x="339.70" y="268.39" width="2" height="2"/><rect x="342.30" y="270.34" width="2" height="2"/><rect x="344.90" y="272.42" width="2" height="2"/><rect x="347.50" y="274.42" width="2" height="2"/><rect x="350.10" y="276.36" width="2" height="2"/><rect x="352.70" y="277.99" width="2" height="2"/><rect x="355.30" y="279.32" width="2" height="2"/><rect x="357.90" y="280.36" width="2" height="2"/><rect x="360.50" y="280.90" width="2" height="2"/><rect x="363.10" y="281.26" width="2" height="2"/><rect x="365.70" y="281.41" width="2" height="2"/><rect x="368.30" y="281.56" width="2" height="2"/><rect x="370.90" y="281.61" width="2" height="2"/><rect x="373.50" y="281.63" width="2" height="2"/><rect x="376.10" y="281.65" width="2" height="2"/><rect x="378.70" y="281.66" width="2" height="2"/><rect x="381.30" y="281.68" width="2" height="2"/><rect x="383.90" y="281.70" width="2" height="2"/></g>
<text x="296.60" y="203.75" font-family="Liberation Sans, Arial, sans-serif" font-size="10.90" fill="#f81848" stroke="#f81848" stroke-width="0.49" textLength="25.55" lengthAdjust="spacingAndGlyphs">Fresh</text>
<text x="297.20" y="255.60" font-family="Liberation Sans, Arial, sans-serif" font-size="10.90" fill="#1fa51f" stroke="#1fa51f" stroke-width="0.49" textLength="23.95" lengthAdjust="spacingAndGlyphs">Aged</text></svg>
</body></html>
